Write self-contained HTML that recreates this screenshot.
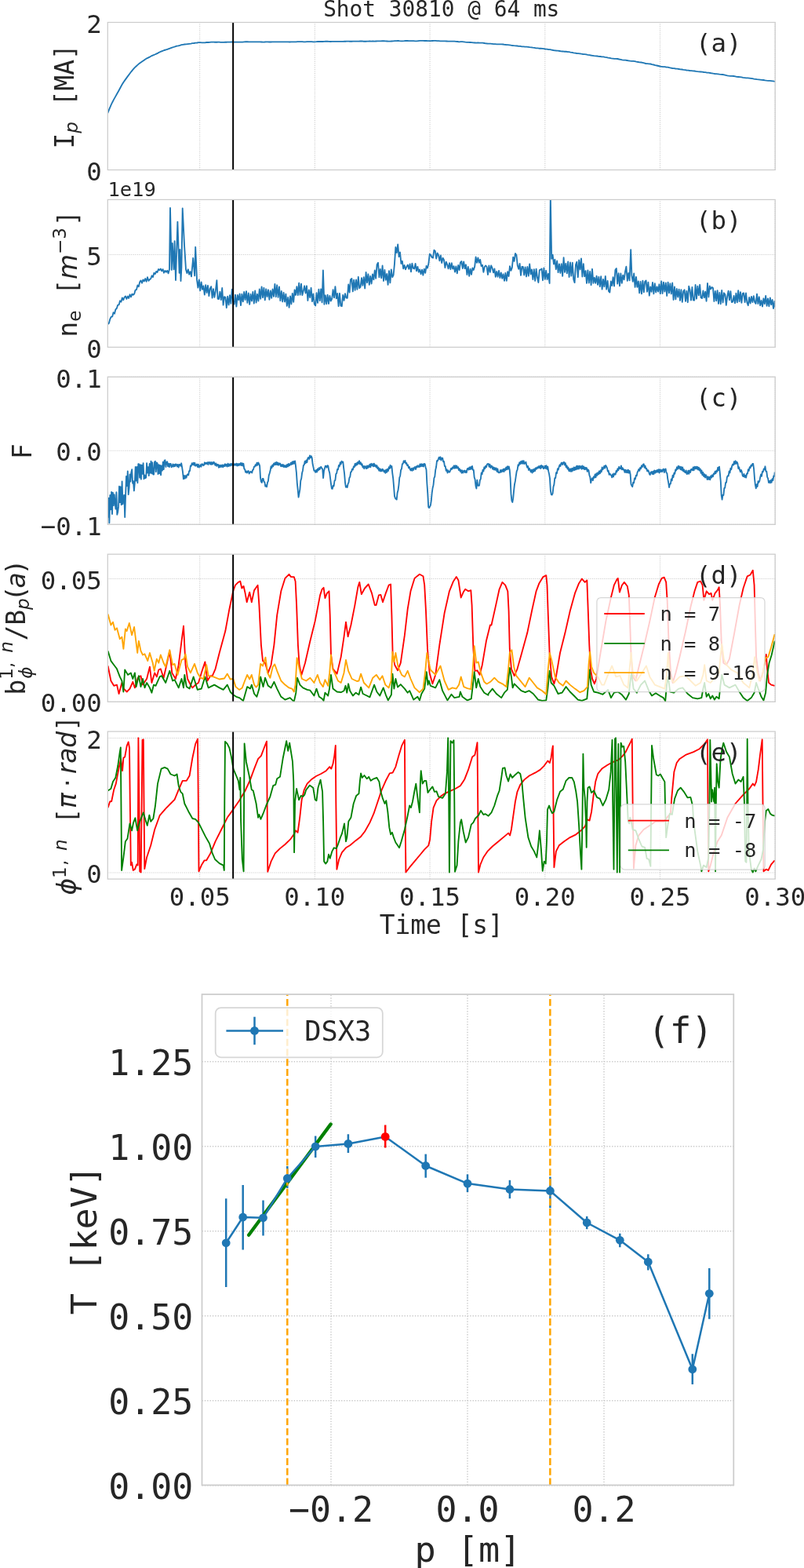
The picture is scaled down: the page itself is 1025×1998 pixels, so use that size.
<!DOCTYPE html>
<html><head><meta charset="utf-8"><title>Shot 30810</title>
<style>html,body{margin:0;padding:0;background:#fff}svg{display:block}</style></head>
<body>
<svg width="1025" height="1998" viewBox="0 0 1025 1998">
<rect width="1025" height="1998" fill="#fff"/>
<defs>
<clipPath id="cp0"><rect x="137.30" y="28.50" width="850.90" height="188.00"/></clipPath>
<clipPath id="cp1"><rect x="137.30" y="254.40" width="850.90" height="188.00"/></clipPath>
<clipPath id="cp2"><rect x="137.30" y="480.30" width="850.90" height="188.00"/></clipPath>
<clipPath id="cp3"><rect x="137.30" y="706.20" width="850.90" height="188.00"/></clipPath>
<clipPath id="cp4"><rect x="137.30" y="932.10" width="850.90" height="188.00"/></clipPath>
</defs>
<g stroke="#c6c6c6" stroke-width="1.05" stroke-dasharray="1.0,1.5" fill="none">
<line x1="254.67" y1="216.50" x2="254.67" y2="28.50"/>
<line x1="401.37" y1="216.50" x2="401.37" y2="28.50"/>
<line x1="548.08" y1="216.50" x2="548.08" y2="28.50"/>
<line x1="694.79" y1="216.50" x2="694.79" y2="28.50"/>
<line x1="841.49" y1="216.50" x2="841.49" y2="28.50"/>
<line x1="988.20" y1="216.50" x2="988.20" y2="28.50"/>
<line x1="137.30" y1="28.50" x2="988.20" y2="28.50"/>
<line x1="137.30" y1="216.50" x2="988.20" y2="216.50"/>
</g>
<g clip-path="url(#cp0)">
<path d="M137.3,144.2 L139.3,139.2 L141.3,134.4 L143.3,130.2 L145.3,126.4 L147.3,122.9 L149.3,119.3 L151.3,115.7 L153.3,112.0 L155.3,108.3 L157.3,105.0 L159.3,102.1 L161.3,99.4 L163.3,96.6 L165.3,94.0 L167.3,91.3 L169.3,88.9 L171.3,86.7 L173.3,84.7 L175.3,82.9 L177.3,81.1 L179.3,79.7 L181.3,78.3 L183.3,76.9 L185.3,75.5 L187.3,74.3 L189.3,73.3 L191.3,72.3 L193.3,71.2 L195.3,70.3 L197.3,69.5 L199.3,68.6 L201.3,67.6 L203.3,66.5 L205.3,65.6 L207.3,64.8 L209.3,64.0 L211.3,63.5 L213.3,62.8 L215.3,62.1 L217.3,61.4 L219.3,60.7 L221.3,60.0 L223.3,59.3 L225.3,58.7 L227.3,58.3 L229.3,57.8 L231.3,57.2 L233.3,56.8 L235.3,56.5 L237.3,56.4 L239.3,56.1 L241.3,55.8 L243.3,55.6 L245.3,55.2 L247.3,55.0 L249.3,54.6 L251.3,54.5 L253.3,54.1 L255.3,54.2 L257.3,54.3 L259.3,54.3 L261.3,54.3 L263.3,54.0 L265.3,54.0 L267.3,53.8 L269.3,53.7 L271.3,53.6 L273.3,53.7 L275.3,53.7 L277.3,53.7 L279.3,53.6 L281.3,53.8 L283.3,53.8 L285.3,53.8 L287.3,53.7 L289.3,53.7 L291.3,53.6 L293.3,53.6 L295.3,53.5 L297.3,53.6 L299.3,53.6 L301.3,53.6 L303.3,53.6 L305.3,53.6 L307.3,53.7 L309.3,53.6 L311.3,53.3 L313.3,53.2 L315.3,53.2 L317.3,53.3 L319.3,53.3 L321.3,53.4 L323.3,53.3 L325.3,53.4 L327.3,53.4 L329.3,53.4 L331.3,53.4 L333.3,53.5 L335.3,53.6 L337.3,53.5 L339.3,53.3 L341.3,53.3 L343.3,53.5 L345.3,53.5 L347.3,53.4 L349.3,53.3 L351.3,53.3 L353.3,53.4 L355.3,53.4 L357.3,53.3 L359.3,53.3 L361.3,53.4 L363.3,53.3 L365.3,53.4 L367.3,53.4 L369.3,53.5 L371.3,53.4 L373.3,53.4 L375.3,53.3 L377.3,53.4 L379.3,53.2 L381.3,53.1 L383.3,53.1 L385.3,53.2 L387.3,53.3 L389.3,53.3 L391.3,53.2 L393.3,53.1 L395.3,53.1 L397.3,53.2 L399.3,53.3 L401.3,53.3 L403.3,53.2 L405.3,53.0 L407.3,53.0 L409.3,53.0 L411.3,53.0 L413.3,52.9 L415.3,52.7 L417.3,52.7 L419.3,52.9 L421.3,53.0 L423.3,52.9 L425.3,52.9 L427.3,52.9 L429.3,52.9 L431.3,52.9 L433.3,52.9 L435.3,52.8 L437.3,52.8 L439.3,52.7 L441.3,52.7 L443.3,52.6 L445.3,52.7 L447.3,52.7 L449.3,52.7 L451.3,52.6 L453.3,52.7 L455.3,52.6 L457.3,52.7 L459.3,52.5 L461.3,52.5 L463.3,52.7 L465.3,52.7 L467.3,52.7 L469.3,52.6 L471.3,52.5 L473.3,52.6 L475.3,52.5 L477.3,52.6 L479.3,52.5 L481.3,52.4 L483.3,52.4 L485.3,52.3 L487.3,52.2 L489.3,52.2 L491.3,52.4 L493.3,52.5 L495.3,52.6 L497.3,52.6 L499.3,52.5 L501.3,52.4 L503.3,52.1 L505.3,52.1 L507.3,52.0 L509.3,52.2 L511.3,52.3 L513.3,52.3 L515.3,52.2 L517.3,52.0 L519.3,52.0 L521.3,52.1 L523.3,52.2 L525.3,52.1 L527.3,52.2 L529.3,52.3 L531.3,52.3 L533.3,52.1 L535.3,51.9 L537.3,51.9 L539.3,51.9 L541.3,52.0 L543.3,52.0 L545.3,52.1 L547.3,52.1 L549.3,52.1 L551.3,52.0 L553.3,51.9 L555.3,51.9 L557.3,52.1 L559.3,52.1 L561.3,52.4 L563.3,52.3 L565.3,52.4 L567.3,52.4 L569.3,52.5 L571.3,52.6 L573.3,52.6 L575.3,52.6 L577.3,52.6 L579.3,52.7 L581.3,52.9 L583.3,53.0 L585.3,53.3 L587.3,53.1 L589.3,53.2 L591.3,53.3 L593.3,53.6 L595.3,53.8 L597.3,53.9 L599.3,54.0 L601.3,54.1 L603.3,54.4 L605.3,54.5 L607.3,54.6 L609.3,54.5 L611.3,54.6 L613.3,54.6 L615.3,54.7 L617.3,55.0 L619.3,55.3 L621.3,55.5 L623.3,55.6 L625.3,55.7 L627.3,55.9 L629.3,56.1 L631.3,56.2 L633.3,56.3 L635.3,56.4 L637.3,56.3 L639.3,56.4 L641.3,56.5 L643.3,56.8 L645.3,57.0 L647.3,57.1 L649.3,57.3 L651.3,57.7 L653.3,58.0 L655.3,58.2 L657.3,58.3 L659.3,58.5 L661.3,58.8 L663.3,58.9 L665.3,59.3 L667.3,59.3 L669.3,59.6 L671.3,59.7 L673.3,59.9 L675.3,60.2 L677.3,60.3 L679.3,60.7 L681.3,60.9 L683.3,61.3 L685.3,61.4 L687.3,61.7 L689.3,61.7 L691.3,61.9 L693.3,62.1 L695.3,62.5 L697.3,62.7 L699.3,63.1 L701.3,63.2 L703.3,63.6 L705.3,64.0 L707.3,64.3 L709.3,64.5 L711.3,64.6 L713.3,65.0 L715.3,65.4 L717.3,65.5 L719.3,65.7 L721.3,65.7 L723.3,66.0 L725.3,66.2 L727.3,66.6 L729.3,66.9 L731.3,67.4 L733.3,67.7 L735.3,68.0 L737.3,68.1 L739.3,68.3 L741.3,68.7 L743.3,69.0 L745.3,69.2 L747.3,69.4 L749.3,69.8 L751.3,70.1 L753.3,70.5 L755.3,70.8 L757.3,71.2 L759.3,71.3 L761.3,71.5 L763.3,71.8 L765.3,72.0 L767.3,72.3 L769.3,72.4 L771.3,72.9 L773.3,73.1 L775.3,73.6 L777.3,73.9 L779.3,74.4 L781.3,74.6 L783.3,74.8 L785.3,74.8 L787.3,75.0 L789.3,75.5 L791.3,75.9 L793.3,76.3 L795.3,76.6 L797.3,76.7 L799.3,77.0 L801.3,77.3 L803.3,77.7 L805.3,77.8 L807.3,77.9 L809.3,78.2 L811.3,78.7 L813.3,79.0 L815.3,79.3 L817.3,79.5 L819.3,79.9 L821.3,80.4 L823.3,81.0 L825.3,81.2 L827.3,81.4 L829.3,81.5 L831.3,82.1 L833.3,82.5 L835.3,83.1 L837.3,83.5 L839.3,84.0 L841.3,84.5 L843.3,84.8 L845.3,85.1 L847.3,85.2 L849.3,85.5 L851.3,85.7 L853.3,86.2 L855.3,86.6 L857.3,87.0 L859.3,87.2 L861.3,87.5 L863.3,87.7 L865.3,88.0 L867.3,88.3 L869.3,88.5 L871.3,88.9 L873.3,89.1 L875.3,89.5 L877.3,89.6 L879.3,90.0 L881.3,90.1 L883.3,90.4 L885.3,90.5 L887.3,90.9 L889.3,91.2 L891.3,91.4 L893.3,91.5 L895.3,91.6 L897.3,92.0 L899.3,92.2 L901.3,92.6 L903.3,92.7 L905.3,93.0 L907.3,93.3 L909.3,93.7 L911.3,94.0 L913.3,94.2 L915.3,94.4 L917.3,94.7 L919.3,94.8 L921.3,95.0 L923.3,95.3 L925.3,95.9 L927.3,96.3 L929.3,96.6 L931.3,96.8 L933.3,96.8 L935.3,97.0 L937.3,97.3 L939.3,97.8 L941.3,98.0 L943.3,98.2 L945.3,98.4 L947.3,98.9 L949.3,99.1 L951.3,99.3 L953.3,99.4 L955.3,99.6 L957.3,99.8 L959.3,100.2 L961.3,100.6 L963.3,100.9 L965.3,101.2 L967.3,101.4 L969.3,101.6 L971.3,101.8 L973.3,102.0 L975.3,102.4 L977.3,102.7 L979.3,102.8 L981.3,102.9 L983.3,103.1 L985.3,103.4 L987.3,103.7 L988.2,103.8" fill="none" stroke="#1f77b4" stroke-width="1.85" stroke-linejoin="round" stroke-linecap="butt" />
<line x1="297.15" y1="28.50" x2="297.15" y2="216.50" stroke="#000" stroke-width="2"/>
</g>
<rect x="137.30" y="28.50" width="850.90" height="188.00" fill="none" stroke="#cccccc" stroke-width="1.25"/>
<g stroke="#c6c6c6" stroke-width="1.05" stroke-dasharray="1.0,1.5" fill="none">
<line x1="254.67" y1="442.40" x2="254.67" y2="254.40"/>
<line x1="401.37" y1="442.40" x2="401.37" y2="254.40"/>
<line x1="548.08" y1="442.40" x2="548.08" y2="254.40"/>
<line x1="694.79" y1="442.40" x2="694.79" y2="254.40"/>
<line x1="841.49" y1="442.40" x2="841.49" y2="254.40"/>
<line x1="988.20" y1="442.40" x2="988.20" y2="254.40"/>
<line x1="137.30" y1="324.50" x2="988.20" y2="324.50"/>
<line x1="137.30" y1="442.40" x2="988.20" y2="442.40"/>
</g>
<g clip-path="url(#cp1)">
<path d="M137.6,413.1 L139.0,411.6 L140.4,406.2 L141.8,403.7 L143.2,403.4 L144.6,398.1 L146.0,399.7 L147.4,394.3 L148.8,393.0 L150.2,388.6 L151.6,388.4 L153.0,383.3 L154.4,384.7 L155.8,379.4 L157.2,382.3 L158.6,378.8 L160.0,377.4 L161.4,381.0 L162.8,377.5 L164.2,380.0 L165.6,375.3 L167.0,378.3 L168.4,374.6 L169.8,375.7 L171.2,374.6 L172.6,369.6 L174.0,369.1 L175.4,363.5 L176.8,365.3 L178.2,359.4 L179.6,357.4 L181.0,360.7 L182.4,356.4 L183.8,358.4 L185.2,355.0 L186.6,358.8 L188.0,353.2 L189.4,357.8 L190.8,356.1 L192.2,355.3 L193.6,351.3 L195.0,353.1 L196.4,347.8 L197.8,349.2 L199.2,345.9 L200.6,347.0 L202.0,343.0 L203.4,344.2 L204.8,342.5 L206.2,345.3 L207.6,343.1 L209.0,347.7 L210.4,344.9 L211.8,346.7 L213.2,344.8 L214.6,348.3 L216.0,342.9 L217.0,264.9 L218.8,343.9 L219.8,310.0 L221.6,343.3 L222.6,307.2 L224.0,357.0 L226.4,282.6 L228.6,347.8 L229.5,318.0 L230.5,358.0 L231.4,341.0 L232.7,265.4 L235.0,312.0 L237.0,343.5 L238.4,348.1 L239.8,343.3 L241.2,349.7 L242.6,346.1 L244.0,352.4 L246.2,328.8 L248.2,351.3 L249.2,314.8 L251.0,356.4 L252.4,366.7 L253.8,356.4 L255.2,370.3 L256.6,359.4 L258.0,368.8 L259.4,364.3 L260.8,375.6 L262.2,363.1 L263.6,373.1 L265.0,363.8 L266.4,377.2 L267.8,367.6 L269.2,365.1 L270.6,379.6 L272.0,368.2 L273.4,378.8 L274.8,370.9 L276.4,357.2 L277.6,380.8 L279.0,381.0 L280.4,371.7 L281.8,382.1 L283.2,367.0 L284.6,388.7 L286.0,378.1 L287.4,378.8 L288.8,392.2 L290.2,377.7 L291.6,388.6 L293.0,376.2 L294.4,386.9 L295.8,368.6 L297.2,384.3 L298.6,387.6 L300.0,375.6 L301.4,390.6 L302.8,376.0 L304.2,382.3 L305.6,374.4 L307.0,389.1 L308.4,374.6 L309.8,384.3 L311.2,371.9 L312.6,382.1 L314.0,371.2 L315.4,385.9 L316.8,373.5 L318.2,387.8 L319.6,374.8 L321.0,383.5 L322.4,371.9 L323.8,386.6 L325.2,370.5 L326.6,385.6 L328.0,374.8 L329.4,383.6 L330.8,368.5 L332.2,380.8 L333.6,365.4 L335.0,379.1 L336.4,366.8 L337.8,382.3 L339.2,368.3 L340.6,378.0 L342.0,369.3 L343.4,381.9 L344.8,370.5 L346.2,379.9 L347.6,368.4 L349.0,377.9 L350.4,361.9 L351.8,378.2 L353.2,363.3 L354.6,378.8 L356.0,365.4 L357.4,383.1 L358.8,371.0 L360.2,384.5 L361.6,372.8 L363.0,384.5 L364.4,374.6 L365.8,389.8 L367.2,379.0 L368.6,391.9 L370.0,377.4 L371.4,387.5 L372.8,373.9 L374.2,384.8 L375.6,369.3 L377.0,376.0 L378.4,365.2 L379.8,376.2 L381.2,360.7 L382.6,375.7 L384.0,361.6 L385.4,376.1 L386.8,370.6 L388.2,364.3 L389.6,373.5 L391.0,364.3 L392.4,383.0 L393.8,369.5 L395.2,379.2 L396.6,366.8 L398.0,384.1 L399.4,374.5 L400.8,387.5 L402.2,389.5 L403.6,373.2 L405.0,386.0 L406.4,368.6 L407.8,383.1 L409.2,368.3 L410.6,385.4 L411.9,344.5 L413.4,387.8 L414.8,376.3 L416.2,387.3 L417.6,375.7 L419.0,387.1 L420.4,376.9 L421.8,383.5 L423.2,380.5 L424.6,369.2 L426.0,379.4 L427.4,365.2 L428.8,380.3 L430.2,374.0 L431.6,390.2 L433.0,373.8 L434.4,389.7 L435.8,390.2 L437.2,375.9 L438.6,382.8 L440.0,374.1 L441.4,379.5 L442.8,379.8 L444.2,362.5 L445.6,372.7 L447.0,356.1 L448.4,354.9 L449.8,371.4 L451.2,356.7 L452.6,369.8 L454.0,356.5 L455.4,368.9 L456.8,352.8 L458.2,367.2 L459.6,365.6 L461.0,354.1 L462.4,363.8 L463.8,353.2 L465.2,367.5 L466.6,347.0 L468.0,360.2 L469.4,349.3 L470.8,362.9 L472.2,351.8 L473.6,361.5 L475.0,349.4 L476.4,356.3 L477.8,344.4 L479.2,354.8 L480.6,337.2 L482.0,334.8 L483.4,353.3 L484.8,342.9 L486.2,354.4 L487.6,338.5 L489.0,358.0 L490.4,344.0 L491.8,356.9 L493.2,349.0 L494.6,362.9 L496.0,345.1 L497.4,360.4 L498.8,343.4 L500.2,353.2 L501.6,350.5 L503.0,335.8 L504.4,314.9 L505.8,322.2 L507.2,311.4 L508.6,327.1 L510.0,321.4 L511.4,335.8 L512.8,332.6 L514.2,342.4 L515.6,338.0 L517.0,343.3 L518.4,339.9 L519.8,337.5 L521.2,342.7 L522.6,336.5 L524.0,346.4 L525.4,335.7 L526.8,341.8 L528.2,342.5 L529.6,336.0 L531.0,345.4 L532.4,339.8 L533.8,346.7 L535.2,343.4 L536.6,349.3 L538.0,343.7 L539.4,350.7 L540.8,342.7 L542.2,347.8 L543.6,338.8 L545.0,341.6 L546.4,335.6 L547.8,323.7 L549.2,325.0 L550.6,328.0 L552.0,328.6 L553.4,318.6 L554.8,319.9 L556.2,329.5 L557.6,322.5 L559.0,325.0 L560.4,332.4 L561.8,325.4 L563.2,335.1 L564.6,328.6 L566.0,331.1 L567.4,341.2 L568.8,333.7 L570.2,337.1 L571.6,342.4 L573.0,335.1 L574.4,343.2 L575.8,335.2 L577.2,342.6 L578.6,339.2 L580.0,346.6 L581.4,339.5 L582.8,348.4 L584.2,337.9 L585.6,344.1 L587.0,334.4 L588.4,332.9 L589.8,342.0 L591.2,333.4 L592.6,342.2 L594.0,337.3 L595.4,350.0 L596.8,340.0 L598.2,351.9 L599.6,342.7 L601.0,349.9 L602.4,341.4 L603.8,344.0 L605.2,339.6 L606.6,327.4 L608.0,334.8 L609.4,328.5 L610.8,334.8 L612.2,330.8 L613.6,339.0 L615.0,337.7 L616.4,346.8 L617.8,340.0 L619.2,338.4 L620.6,340.0 L622.0,350.0 L623.4,338.4 L624.8,346.9 L626.2,338.3 L627.6,341.6 L629.0,347.4 L630.4,342.4 L631.8,352.8 L633.2,345.9 L634.6,352.7 L636.0,344.9 L637.4,354.1 L638.8,347.5 L640.2,354.8 L641.6,349.3 L643.0,357.9 L644.4,347.8 L645.8,357.8 L647.2,346.1 L648.6,352.0 L650.0,339.1 L651.4,344.8 L652.8,341.1 L654.2,327.7 L655.6,332.9 L657.0,323.0 L658.4,325.1 L659.8,338.3 L661.2,342.8 L662.6,335.9 L664.0,350.8 L665.4,339.8 L666.8,339.9 L668.2,350.5 L669.6,340.4 L671.0,352.5 L672.4,339.9 L673.8,351.7 L675.2,336.4 L676.6,349.5 L678.0,343.5 L679.4,356.1 L680.8,343.2 L682.2,357.9 L683.6,342.7 L685.0,353.8 L686.4,360.0 L687.8,344.1 L689.2,343.7 L690.6,342.4 L692.0,357.2 L693.4,341.5 L694.8,355.9 L696.2,344.8 L697.6,356.2 L699.0,348.8 L700.6,361.0 L701.8,250.0 L703.2,329.8 L704.6,324.7 L706.0,336.6 L707.4,330.7 L708.8,343.2 L710.2,332.5 L711.6,347.1 L713.0,336.4 L714.4,348.0 L715.8,336.2 L717.2,351.8 L718.6,328.2 L720.0,346.9 L721.4,335.7 L722.8,348.4 L724.2,333.4 L725.6,353.0 L727.0,334.5 L728.4,351.6 L729.8,334.7 L731.2,356.0 L732.6,360.1 L734.0,337.4 L735.4,333.7 L736.8,353.1 L738.2,331.4 L739.6,343.5 L741.0,329.4 L742.4,352.5 L743.8,336.1 L745.2,352.2 L746.6,345.2 L748.0,360.9 L749.4,344.4 L750.8,360.5 L752.2,345.9 L753.6,363.2 L755.0,342.8 L756.4,360.8 L757.8,353.8 L759.2,360.8 L760.6,351.7 L762.0,362.8 L763.4,352.8 L764.8,365.2 L766.2,352.2 L767.6,368.6 L769.0,355.9 L770.4,365.3 L771.8,351.9 L773.2,368.7 L774.6,357.8 L776.0,371.0 L777.4,372.5 L778.8,358.5 L780.2,364.1 L781.6,353.2 L783.0,364.6 L784.4,344.1 L785.8,342.1 L787.2,361.6 L788.6,348.2 L790.0,364.4 L791.4,348.5 L792.8,360.8 L794.2,350.7 L795.6,356.3 L797.0,346.3 L798.4,339.7 L799.8,357.9 L801.2,347.9 L802.6,357.4 L804.2,318.1 L805.4,351.2 L806.8,358.9 L808.2,348.4 L809.6,365.9 L811.0,352.9 L812.4,365.9 L813.8,358.4 L815.2,373.3 L816.6,358.8 L818.0,374.4 L819.4,357.6 L820.8,372.4 L822.2,358.8 L823.6,357.4 L825.0,371.7 L826.4,359.6 L827.8,376.7 L829.2,365.4 L830.6,371.8 L832.0,359.9 L833.4,374.3 L834.8,361.1 L836.2,372.5 L837.6,365.3 L839.0,371.6 L840.4,362.3 L841.8,374.4 L843.2,358.3 L844.6,374.0 L846.0,359.6 L847.4,371.6 L848.8,360.4 L850.2,377.0 L851.6,359.6 L853.0,373.4 L854.4,361.3 L855.8,374.5 L857.2,360.5 L858.6,382.0 L860.0,365.5 L861.4,381.3 L862.8,368.0 L864.2,378.5 L865.6,368.7 L867.0,382.8 L868.4,369.2 L869.8,384.8 L871.2,371.0 L872.6,369.3 L874.0,383.9 L875.4,370.8 L876.8,385.2 L878.2,364.7 L879.6,369.6 L881.0,382.6 L882.4,365.9 L883.8,382.5 L885.2,382.6 L886.6,363.0 L888.0,380.7 L889.4,364.7 L890.8,376.3 L892.2,362.8 L893.6,379.3 L895.0,380.1 L896.4,370.4 L897.8,379.3 L899.2,371.7 L900.6,383.8 L902.0,361.0 L903.4,378.5 L904.8,364.5 L906.2,368.4 L907.6,366.0 L909.0,367.1 L910.4,384.0 L911.8,371.0 L913.2,383.3 L914.6,370.1 L916.0,387.0 L917.4,372.8 L918.8,387.3 L920.2,369.9 L921.6,385.5 L923.0,373.3 L924.4,375.2 L925.8,388.9 L927.2,377.6 L928.6,370.6 L930.0,382.4 L931.4,371.1 L932.8,385.0 L934.2,384.6 L935.6,376.9 L937.0,386.4 L938.4,373.7 L939.8,385.3 L941.2,370.2 L942.6,384.1 L944.0,372.2 L945.4,385.8 L946.8,373.8 L948.2,373.4 L949.6,385.2 L951.0,373.5 L952.4,385.4 L953.8,389.2 L955.2,378.9 L956.6,386.6 L958.0,377.9 L959.4,385.1 L960.8,377.1 L962.2,385.0 L963.6,387.0 L965.0,374.7 L966.4,387.2 L967.8,378.3 L969.2,389.4 L970.6,382.9 L972.0,390.6 L973.4,380.3 L974.8,387.2 L976.2,376.9 L977.6,389.9 L979.0,380.5 L980.4,390.4 L981.8,379.5 L983.2,388.2 L984.6,382.0 L986.0,393.1 L987.4,383.9 L988.0,391.4" fill="none" stroke="#1f77b4" stroke-width="1.85" stroke-linejoin="round" stroke-linecap="butt" />
<line x1="297.15" y1="254.40" x2="297.15" y2="442.40" stroke="#000" stroke-width="2"/>
</g>
<rect x="137.30" y="254.40" width="850.90" height="188.00" fill="none" stroke="#cccccc" stroke-width="1.25"/>
<g stroke="#c6c6c6" stroke-width="1.05" stroke-dasharray="1.0,1.5" fill="none">
<line x1="254.67" y1="668.30" x2="254.67" y2="480.30"/>
<line x1="401.37" y1="668.30" x2="401.37" y2="480.30"/>
<line x1="548.08" y1="668.30" x2="548.08" y2="480.30"/>
<line x1="694.79" y1="668.30" x2="694.79" y2="480.30"/>
<line x1="841.49" y1="668.30" x2="841.49" y2="480.30"/>
<line x1="988.20" y1="668.30" x2="988.20" y2="480.30"/>
<line x1="137.30" y1="480.30" x2="988.20" y2="480.30"/>
<line x1="137.30" y1="574.20" x2="988.20" y2="574.20"/>
<line x1="137.30" y1="668.30" x2="988.20" y2="668.30"/>
</g>
<g clip-path="url(#cp2)">
<path d="M137.6,659.8 L138.5,634.7 L139.4,666.4 L140.3,631.0 L141.2,649.2 L142.1,626.9 L143.0,655.0 L143.9,627.6 L144.8,644.1 L145.7,630.2 L146.6,640.6 L147.5,648.6 L148.4,627.2 L149.3,655.8 L150.2,652.5 L151.1,645.4 L152.0,619.7 L152.9,640.1 L153.8,620.3 L154.7,643.3 L155.6,613.4 L156.5,642.4 L157.4,634.9 L158.3,630.8 L159.2,659.0 L160.1,631.2 L161.0,606.9 L161.9,619.2 L162.8,600.4 L163.7,630.1 L164.6,621.6 L165.5,604.4 L166.4,613.6 L167.3,601.9 L168.2,598.1 L169.1,615.8 L170.0,613.2 L170.9,625.4 L171.8,615.6 L172.7,595.0 L173.6,612.6 L174.5,595.0 L175.4,615.3 L176.3,591.1 L177.2,591.4 L178.1,608.7 L179.0,592.1 L179.9,610.6 L180.8,592.6 L181.7,603.9 L182.6,590.1 L183.5,610.4 L184.4,605.4 L185.3,609.3 L186.2,608.5 L187.1,590.1 L188.0,602.5 L188.9,595.1 L189.8,606.1 L190.7,591.0 L191.6,602.7 L192.5,587.6 L193.4,603.4 L194.3,589.3 L195.2,604.5 L196.1,604.6 L197.0,588.9 L197.9,587.8 L198.8,601.2 L199.7,589.5 L200.6,590.2 L201.5,604.1 L202.4,592.2 L203.3,603.3 L204.2,592.8 L205.1,605.4 L206.0,593.5 L206.9,599.6 L207.8,588.6 L208.7,598.1 L209.6,586.8 L210.5,586.3 L211.4,595.0 L212.3,588.9 L213.2,588.2 L214.1,594.3 L215.0,590.7 L215.9,595.1 L216.8,591.0 L217.7,590.9 L218.6,595.4 L219.5,594.6 L220.4,591.4 L221.3,594.6 L222.2,591.9 L223.1,594.1 L224.0,591.4 L224.9,591.9 L225.8,594.5 L226.7,591.9 L227.6,595.6 L228.5,591.9 L229.4,592.0 L230.3,593.7 L231.2,590.3 L232.1,595.3 L233.0,601.5 L233.9,610.4 L234.8,606.0 L235.7,609.9 L236.6,606.1 L237.5,608.7 L238.4,605.4 L239.3,604.2 L240.2,605.5 L241.1,600.2 L242.0,600.2 L242.9,593.4 L243.8,593.8 L244.7,590.3 L245.6,592.1 L246.5,589.6 L247.4,592.7 L248.3,589.8 L249.2,593.7 L250.1,593.0 L251.0,591.5 L251.9,595.1 L252.8,591.7 L253.7,595.6 L254.6,594.5 L255.5,592.3 L256.4,594.7 L257.3,591.3 L258.2,591.4 L259.1,593.2 L260.0,592.7 L260.9,589.3 L261.8,591.3 L262.7,589.6 L263.6,591.1 L264.5,589.1 L265.4,592.1 L266.3,589.0 L267.2,589.2 L268.1,591.7 L269.0,588.9 L269.9,591.9 L270.8,589.1 L271.7,591.2 L272.6,588.6 L273.5,590.2 L274.4,592.9 L275.3,590.4 L276.2,593.8 L277.1,591.8 L278.0,592.0 L278.9,595.8 L279.8,592.7 L280.7,595.1 L281.6,592.8 L282.5,594.9 L283.4,592.4 L284.3,595.3 L285.2,592.4 L286.1,594.1 L287.0,591.3 L287.9,593.8 L288.8,591.8 L289.7,594.5 L290.6,590.7 L291.5,594.0 L292.4,591.5 L293.3,593.6 L294.2,590.9 L295.1,593.0 L296.0,590.9 L296.9,592.7 L297.8,591.0 L298.7,592.7 L299.6,591.2 L300.5,592.8 L301.4,590.6 L302.3,593.6 L303.2,591.0 L304.1,593.2 L305.0,590.9 L305.9,592.7 L306.8,590.0 L307.7,593.0 L308.6,590.1 L309.5,593.5 L310.4,590.8 L311.3,597.4 L312.2,598.1 L313.1,601.9 L314.0,600.4 L314.9,602.5 L315.8,600.6 L316.7,600.0 L317.6,603.5 L318.5,602.5 L319.4,600.8 L320.3,601.1 L321.2,602.4 L322.1,598.9 L323.0,598.4 L323.9,594.6 L324.8,594.7 L325.7,592.1 L326.6,593.5 L327.5,589.7 L328.4,592.7 L329.3,589.4 L330.2,591.2 L331.1,593.4 L332.0,608.5 L332.9,613.8 L333.8,615.0 L334.7,610.0 L335.6,609.9 L336.5,613.9 L337.4,614.3 L338.3,619.8 L339.2,618.3 L340.1,620.3 L341.0,614.8 L341.9,613.0 L342.8,605.7 L343.7,603.1 L344.6,599.8 L345.5,594.3 L346.4,596.4 L347.3,592.4 L348.2,594.3 L349.1,590.4 L350.0,592.4 L350.9,589.4 L351.8,592.1 L352.7,588.8 L353.6,592.4 L354.5,589.7 L355.4,592.7 L356.3,590.5 L357.2,590.7 L358.1,594.2 L359.0,592.0 L359.9,594.3 L360.8,591.9 L361.7,595.1 L362.6,593.0 L363.5,595.2 L364.4,593.0 L365.3,595.3 L366.2,591.8 L367.1,594.4 L368.0,590.9 L368.9,593.4 L369.8,592.4 L370.7,589.8 L371.6,592.0 L372.5,588.5 L373.4,591.2 L374.3,587.8 L375.2,590.6 L376.1,587.5 L377.0,593.9 L377.9,602.3 L378.8,615.6 L379.7,624.2 L380.6,633.6 L381.5,628.5 L382.4,623.6 L383.3,612.6 L384.2,609.8 L385.1,602.7 L386.0,599.4 L386.9,592.9 L387.8,592.2 L388.7,587.6 L389.6,590.3 L390.5,586.5 L391.4,589.1 L392.3,584.1 L393.2,582.9 L394.1,585.0 L395.0,580.5 L395.9,583.4 L396.8,581.1 L397.7,583.4 L398.6,591.3 L399.5,595.4 L400.4,599.9 L401.3,599.6 L402.2,601.8 L403.1,598.9 L404.0,601.6 L404.9,597.4 L405.8,599.5 L406.7,596.2 L407.6,598.1 L408.5,595.3 L409.4,595.0 L410.3,596.9 L411.2,597.6 L412.1,609.2 L413.0,600.1 L413.9,597.0 L414.8,593.7 L415.7,593.8 L416.6,595.8 L417.5,593.1 L418.4,593.8 L419.3,599.6 L420.2,602.5 L421.1,609.5 L422.0,616.6 L422.9,622.6 L423.8,622.9 L424.7,618.7 L425.6,619.5 L426.5,612.5 L427.4,611.9 L428.3,604.0 L429.2,603.1 L430.1,598.0 L431.0,598.2 L431.9,593.0 L432.8,594.2 L433.7,589.3 L434.6,591.6 L435.5,587.7 L436.4,589.3 L437.3,588.6 L438.2,596.6 L439.1,603.5 L440.0,614.8 L440.9,620.9 L441.8,619.2 L442.7,621.0 L443.6,616.6 L444.5,614.9 L445.4,609.0 L446.3,607.5 L447.2,601.3 L448.1,601.1 L449.0,597.6 L449.9,598.6 L450.8,594.5 L451.7,595.3 L452.6,591.0 L453.5,593.5 L454.4,590.1 L455.3,592.2 L456.2,588.8 L457.1,590.9 L458.0,587.2 L458.9,591.4 L459.8,589.2 L460.7,592.5 L461.6,591.3 L462.5,595.6 L463.4,594.0 L464.3,597.2 L465.2,594.0 L466.1,594.8 L467.0,597.2 L467.9,593.5 L468.8,596.6 L469.7,593.5 L470.6,595.1 L471.5,591.6 L472.4,595.3 L473.3,590.8 L474.2,593.3 L475.1,591.1 L476.0,594.4 L476.9,590.7 L477.8,594.0 L478.7,592.4 L479.6,595.4 L480.5,593.1 L481.4,597.4 L482.3,595.5 L483.2,599.7 L484.1,597.2 L485.0,600.5 L485.9,598.0 L486.8,600.4 L487.7,597.7 L488.6,598.9 L489.5,601.3 L490.4,599.5 L491.3,602.8 L492.2,598.5 L493.1,601.8 L494.0,597.6 L494.9,600.2 L495.8,595.2 L496.7,597.1 L497.6,592.8 L498.5,595.9 L499.4,594.0 L500.3,603.1 L501.2,609.7 L502.1,620.3 L503.0,632.1 L503.9,634.8 L504.8,635.8 L505.7,636.6 L506.6,627.9 L507.5,624.8 L508.4,618.3 L509.3,608.6 L510.2,606.2 L511.1,598.8 L512.0,597.4 L512.9,591.1 L513.8,590.9 L514.7,587.3 L515.6,589.2 L516.5,586.9 L517.4,590.9 L518.3,589.9 L519.2,593.2 L520.1,592.4 L521.0,596.4 L521.9,594.9 L522.8,598.1 L523.7,599.4 L524.6,596.9 L525.5,599.8 L526.4,596.5 L527.3,598.8 L528.2,595.8 L529.1,595.0 L530.0,598.1 L530.9,594.1 L531.8,595.4 L532.7,593.2 L533.6,594.8 L534.5,595.1 L535.4,591.4 L536.3,594.4 L537.2,591.2 L538.1,594.1 L539.0,591.4 L539.9,594.5 L540.8,590.9 L541.7,591.3 L542.6,595.4 L543.5,598.5 L544.4,616.5 L545.3,628.9 L546.2,645.9 L547.1,647.1 L548.0,645.5 L548.9,643.9 L549.8,637.8 L550.7,628.2 L551.6,621.7 L552.5,618.1 L553.4,609.2 L554.3,607.3 L555.2,598.9 L556.1,595.0 L557.0,587.2 L557.9,587.4 L558.8,585.0 L559.7,582.7 L560.6,585.3 L561.5,582.3 L562.4,586.5 L563.3,583.6 L564.2,583.7 L565.1,588.3 L566.0,588.0 L566.9,594.0 L567.8,594.2 L568.7,599.8 L569.6,598.1 L570.5,602.6 L571.4,599.4 L572.3,601.5 L573.2,601.6 L574.1,599.6 L575.0,596.9 L575.9,598.0 L576.8,595.5 L577.7,596.7 L578.6,593.5 L579.5,596.7 L580.4,593.2 L581.3,596.5 L582.2,593.4 L583.1,596.6 L584.0,595.1 L584.9,599.1 L585.8,597.1 L586.7,600.7 L587.6,598.9 L588.5,602.7 L589.4,599.5 L590.3,602.6 L591.2,600.3 L592.1,599.6 L593.0,602.1 L593.9,600.0 L594.8,602.2 L595.7,597.4 L596.6,596.7 L597.5,598.6 L598.4,595.5 L599.3,598.1 L600.2,595.0 L601.1,597.7 L602.0,593.9 L602.9,598.8 L603.8,598.8 L604.7,608.3 L605.6,610.9 L606.5,619.2 L607.4,622.5 L608.3,611.7 L609.2,618.7 L610.1,618.7 L611.0,618.7 L611.9,611.8 L612.8,610.5 L613.7,602.5 L614.6,604.4 L615.5,598.6 L616.4,600.5 L617.3,595.3 L618.2,597.2 L619.1,593.6 L620.0,595.4 L620.9,591.8 L621.8,591.1 L622.7,590.9 L623.6,594.7 L624.5,591.6 L625.4,596.1 L626.3,593.5 L627.2,594.0 L628.1,597.8 L629.0,595.3 L629.9,598.6 L630.8,596.0 L631.7,598.8 L632.6,596.4 L633.5,600.9 L634.4,597.5 L635.3,602.0 L636.2,602.4 L637.1,602.1 L638.0,599.0 L638.9,601.7 L639.8,598.9 L640.7,600.8 L641.6,597.7 L642.5,601.1 L643.4,597.3 L644.3,599.4 L645.2,595.4 L646.1,598.3 L647.0,594.1 L647.9,597.7 L648.8,594.5 L649.7,598.7 L650.6,609.0 L651.5,629.4 L652.4,637.9 L653.3,640.0 L654.2,635.2 L655.1,625.1 L656.0,617.2 L656.9,612.9 L657.8,606.3 L658.7,600.5 L659.6,598.7 L660.5,592.3 L661.4,593.4 L662.3,589.1 L663.2,591.3 L664.1,588.0 L665.0,590.7 L665.9,587.1 L666.8,590.9 L667.7,587.1 L668.6,591.0 L669.5,590.5 L670.4,588.6 L671.3,592.9 L672.2,595.7 L673.1,594.0 L674.0,599.0 L674.9,596.8 L675.8,598.6 L676.7,601.4 L677.6,598.8 L678.5,602.6 L679.4,598.3 L680.3,601.0 L681.2,597.4 L682.1,600.1 L683.0,596.1 L683.9,597.7 L684.8,595.4 L685.7,596.6 L686.6,594.1 L687.5,596.2 L688.4,593.7 L689.3,597.0 L690.2,592.9 L691.1,595.6 L692.0,593.9 L692.9,597.2 L693.8,596.6 L694.7,593.6 L695.6,596.8 L696.5,593.1 L697.4,597.8 L698.3,594.6 L699.2,600.4 L700.1,604.1 L701.0,609.6 L701.9,625.1 L702.8,630.2 L703.7,630.6 L704.6,628.9 L705.5,620.2 L706.4,617.4 L707.3,609.1 L708.2,609.2 L709.1,602.2 L710.0,603.1 L710.9,597.3 L711.8,598.5 L712.7,594.8 L713.6,592.3 L714.5,594.0 L715.4,590.3 L716.3,589.5 L717.2,592.1 L718.1,589.4 L719.0,588.8 L719.9,592.5 L720.8,590.0 L721.7,595.4 L722.6,593.3 L723.5,597.6 L724.4,595.5 L725.3,600.1 L726.2,597.5 L727.1,600.7 L728.0,597.2 L728.9,600.9 L729.8,596.8 L730.7,599.5 L731.6,595.4 L732.5,599.1 L733.4,595.5 L734.3,598.4 L735.2,593.7 L736.1,597.7 L737.0,593.8 L737.9,597.6 L738.8,593.6 L739.7,596.5 L740.6,594.2 L741.5,597.7 L742.4,593.5 L743.3,597.2 L744.2,594.5 L745.1,598.2 L746.0,595.6 L746.9,598.0 L747.8,596.0 L748.7,600.9 L749.6,598.3 L750.5,599.3 L751.4,605.6 L752.3,607.9 L753.2,615.4 L754.1,611.0 L755.0,609.3 L755.9,612.1 L756.8,607.5 L757.7,608.7 L758.6,604.5 L759.5,608.3 L760.4,603.1 L761.3,605.9 L762.2,602.2 L763.1,604.3 L764.0,600.3 L764.9,603.4 L765.8,599.2 L766.7,601.3 L767.6,595.5 L768.5,598.3 L769.4,596.2 L770.3,593.8 L771.2,596.7 L772.1,592.9 L773.0,594.3 L773.9,596.1 L774.8,600.5 L775.7,599.8 L776.6,604.9 L777.5,603.4 L778.4,604.9 L779.3,605.7 L780.2,608.4 L781.1,604.2 L782.0,607.5 L782.9,603.3 L783.8,604.7 L784.7,604.5 L785.6,599.9 L786.5,601.4 L787.4,597.1 L788.3,599.2 L789.2,594.8 L790.1,597.2 L791.0,597.3 L791.9,593.5 L792.8,598.3 L793.7,596.1 L794.6,598.6 L795.5,598.1 L796.4,601.9 L797.3,598.7 L798.2,602.0 L799.1,599.2 L800.0,602.4 L800.9,598.7 L801.8,602.7 L802.7,599.9 L803.6,604.1 L804.5,616.9 L805.4,618.9 L806.3,620.2 L807.2,614.8 L808.1,615.4 L809.0,609.4 L809.9,610.5 L810.8,605.8 L811.7,606.4 L812.6,601.8 L813.5,600.2 L814.4,597.8 L815.3,599.8 L816.2,595.8 L817.1,597.3 L818.0,593.3 L818.9,595.0 L819.8,591.8 L820.7,591.3 L821.6,595.8 L822.5,593.5 L823.4,597.3 L824.3,597.0 L825.2,600.6 L826.1,599.1 L827.0,600.6 L827.9,604.0 L828.8,605.1 L829.7,601.7 L830.6,601.1 L831.5,604.0 L832.4,600.8 L833.3,604.3 L834.2,599.5 L835.1,602.8 L836.0,599.7 L836.9,601.9 L837.8,599.0 L838.7,601.5 L839.6,598.2 L840.5,602.6 L841.4,598.1 L842.3,601.0 L843.2,598.9 L844.1,601.2 L845.0,598.5 L845.9,597.6 L846.8,602.0 L847.7,598.2 L848.6,597.4 L849.5,602.3 L850.4,603.1 L851.3,610.3 L852.2,615.0 L853.1,621.1 L854.0,616.6 L854.9,616.6 L855.8,610.5 L856.7,612.3 L857.6,605.6 L858.5,608.2 L859.4,602.6 L860.3,603.7 L861.2,598.5 L862.1,599.4 L863.0,595.3 L863.9,597.7 L864.8,593.7 L865.7,596.8 L866.6,594.4 L867.5,598.2 L868.4,594.9 L869.3,599.0 L870.2,595.5 L871.1,600.6 L872.0,598.3 L872.9,601.6 L873.8,602.2 L874.7,599.4 L875.6,604.1 L876.5,603.7 L877.4,599.6 L878.3,603.8 L879.2,599.5 L880.1,602.0 L881.0,598.2 L881.9,597.8 L882.8,599.4 L883.7,595.5 L884.6,599.4 L885.5,594.7 L886.4,597.3 L887.3,594.7 L888.2,597.5 L889.1,594.8 L890.0,598.5 L890.9,595.7 L891.8,599.6 L892.7,597.4 L893.6,602.8 L894.5,599.5 L895.4,605.3 L896.3,601.9 L897.2,607.0 L898.1,604.2 L899.0,608.6 L899.9,605.2 L900.8,607.5 L901.7,611.1 L902.6,607.3 L903.5,610.9 L904.4,608.0 L905.3,611.3 L906.2,606.3 L907.1,608.6 L908.0,605.3 L908.9,607.4 L909.8,603.5 L910.7,604.3 L911.6,600.6 L912.5,603.2 L913.4,599.6 L914.3,600.9 L915.2,595.7 L916.1,599.2 L917.0,594.7 L917.9,603.7 L918.8,613.5 L919.7,631.4 L920.6,636.7 L921.5,630.7 L922.4,631.0 L923.3,622.1 L924.2,621.6 L925.1,615.0 L926.0,614.8 L926.9,608.1 L927.8,606.1 L928.7,606.6 L929.6,600.4 L930.5,602.5 L931.4,596.6 L932.3,598.3 L933.2,593.8 L934.1,591.6 L935.0,592.5 L935.9,588.1 L936.8,591.4 L937.7,587.3 L938.6,590.9 L939.5,588.6 L940.4,590.7 L941.3,597.2 L942.2,595.3 L943.1,598.9 L944.0,601.4 L944.9,598.9 L945.8,601.3 L946.7,606.1 L947.6,607.1 L948.5,604.0 L949.4,608.0 L950.3,605.8 L951.2,608.6 L952.1,603.4 L953.0,603.6 L953.9,598.2 L954.8,599.9 L955.7,595.1 L956.6,596.2 L957.5,592.8 L958.4,593.8 L959.3,590.9 L960.2,591.0 L961.1,597.7 L962.0,609.6 L962.9,617.8 L963.8,622.4 L964.7,617.3 L965.6,620.0 L966.5,613.2 L967.4,614.7 L968.3,612.9 L969.2,608.2 L970.1,604.5 L971.0,606.9 L971.9,601.0 L972.8,601.2 L973.7,597.5 L974.6,598.4 L975.5,594.3 L976.4,600.6 L977.3,600.7 L978.2,607.8 L979.1,609.7 L980.0,615.0 L980.9,612.9 L981.8,615.4 L982.7,612.0 L983.6,614.8 L984.5,610.2 L985.4,612.1 L986.3,606.5 L987.2,607.1 L987.7,601.6" fill="none" stroke="#1f77b4" stroke-width="1.85" stroke-linejoin="round" stroke-linecap="butt" />
<line x1="297.15" y1="480.30" x2="297.15" y2="668.30" stroke="#000" stroke-width="2"/>
</g>
<rect x="137.30" y="480.30" width="850.90" height="188.00" fill="none" stroke="#cccccc" stroke-width="1.25"/>
<g stroke="#c6c6c6" stroke-width="1.05" stroke-dasharray="1.0,1.5" fill="none">
<line x1="254.67" y1="894.20" x2="254.67" y2="706.20"/>
<line x1="401.37" y1="894.20" x2="401.37" y2="706.20"/>
<line x1="548.08" y1="894.20" x2="548.08" y2="706.20"/>
<line x1="694.79" y1="894.20" x2="694.79" y2="706.20"/>
<line x1="841.49" y1="894.20" x2="841.49" y2="706.20"/>
<line x1="988.20" y1="894.20" x2="988.20" y2="706.20"/>
<line x1="137.30" y1="737.40" x2="988.20" y2="737.40"/>
<line x1="137.30" y1="894.20" x2="988.20" y2="894.20"/>
</g>
<g clip-path="url(#cp3)">
<path d="M137.6,848.5 L141.4,867.5 L145.2,873.8 L149.0,872.6 L151.6,884.0 L155.4,870.0 L157.9,877.6 L161.7,881.5 L165.5,877.6 L169.3,868.8 L171.9,876.4 L175.7,863.7 L179.5,861.2 L182.0,872.6 L187.1,865.0 L190.9,849.7 L193.4,870.0 L197.2,857.4 L199.8,862.4 L202.3,853.5 L204.8,852.3 L208.6,863.7 L212.4,847.2 L216.3,829.4 L219.3,857.4 L223.9,865.0 L227.7,847.2 L231.5,816.8 L234.0,797.7 L236.5,847.2 L239.1,865.0 L242.9,872.6 L245.4,876.4 L249.2,872.6 L253.0,870.0 L256.8,857.4 L261.4,843.4 L264.4,867.5 L268.3,861.2 L270.8,861.2 L274.6,852.3 L279.7,832.0 L287.3,804.1 L292.4,776.2 L297.2,753.3 L300.0,745.7 L303.8,741.9 L306.3,740.7 L308.3,749.5 L310.6,747.0 L312.6,755.9 L314.7,767.3 L318.2,754.6 L320.8,767.3 L324.1,752.1 L328.6,745.7 L330.4,771.1 L332.9,821.8 L335.0,842.1 L338.0,844.7 L341.8,857.4 L345.6,847.2 L349.4,821.8 L353.2,783.8 L358.3,753.3 L363.4,736.9 L368.5,731.8 L371.0,735.1 L374.8,735.1 L376.6,740.7 L378.1,771.1 L379.9,821.8 L381.6,847.2 L384.4,859.9 L389.0,844.7 L395.4,816.8 L401.7,791.4 L408.1,758.4 L410.6,750.8 L412.6,748.8 L414.4,762.2 L416.9,755.9 L419.5,753.3 L420.7,783.8 L422.0,834.5 L424.5,852.3 L429.6,858.6 L434.7,837.1 L438.5,811.7 L441.0,792.7 L443.6,811.2 L447.4,796.5 L452.4,771.1 L456.3,748.3 L458.3,741.9 L460.8,757.2 L465.1,749.5 L469.7,744.5 L474.0,755.9 L477.8,771.1 L479.6,771.1 L482.9,758.4 L485.4,757.9 L488.0,767.3 L491.8,755.9 L495.6,745.7 L498.1,744.5 L499.4,783.8 L500.6,832.0 L503.2,847.2 L507.0,854.3 L510.8,844.7 L515.9,809.2 L519.7,776.2 L523.5,753.3 L528.5,736.9 L534.9,731.8 L539.5,734.3 L541.2,745.7 L543.0,778.7 L545.0,826.9 L547.6,857.4 L551.4,871.3 L555.2,859.9 L560.3,821.8 L566.6,781.3 L572.9,753.3 L578.0,740.7 L581.8,735.1 L584.4,739.4 L587.7,761.5 L590.7,754.6 L593.2,750.8 L597.0,753.3 L600.3,752.1 L601.6,771.1 L603.4,826.9 L605.4,854.8 L608.5,854.3 L611.5,859.9 L614.8,847.2 L619.9,816.8 L624.9,796.5 L626.5,796.5 L631.6,773.6 L636.6,750.8 L640.4,741.9 L644.2,745.7 L647.3,753.3 L648.6,778.7 L649.8,826.9 L651.9,852.3 L655.7,861.2 L659.5,852.3 L664.5,834.5 L672.2,806.6 L678.5,776.2 L683.6,753.3 L687.4,743.2 L692.4,735.1 L696.3,733.1 L697.5,745.7 L698.8,783.8 L700.6,832.0 L703.1,862.4 L706.4,871.3 L708.9,862.4 L714.0,832.0 L720.4,806.6 L726.7,778.7 L733.0,755.9 L738.1,743.2 L741.9,737.6 L745.7,741.9 L748.3,739.4 L749.5,771.1 L751.3,821.8 L752.8,852.3 L755.1,865.0 L757.9,871.3 L760.2,865.0 L764.7,837.1 L772.4,791.4 L779.0,761.0 L782.8,745.7 L786.6,738.1 L787.8,736.9 L789.9,754.6 L792.9,745.7 L795.9,741.9 L799.8,747.0 L801.8,758.4 L803.1,791.4 L804.6,837.1 L806.9,862.4 L810.2,867.5 L814.5,849.7 L820.8,824.4 L828.4,791.4 L834.8,761.0 L839.8,744.5 L843.6,736.9 L846.7,735.6 L849.2,741.9 L850.7,766.0 L852.5,816.8 L855.1,857.4 L857.6,870.0 L861.4,857.4 L866.5,837.1 L874.1,804.1 L880.4,773.6 L885.5,753.3 L889.3,741.9 L893.1,740.7 L895.6,745.7 L897.4,764.8 L900.7,753.3 L904.0,757.2 L906.6,755.9 L908.3,764.8 L911.6,755.9 L914.7,752.1 L916.7,748.3 L918.0,771.1 L919.7,816.8 L922.3,844.7 L926.1,847.2 L929.9,839.6 L936.2,806.6 L942.6,771.1 L947.6,749.5 L952.7,734.3 L956.5,732.5 L959.8,726.7 L961.6,745.7 L962.9,796.5 L964.1,837.1 L966.7,857.4 L969.2,867.5 L972.5,857.4 L975.0,844.7 L976.8,834.0 L978.1,852.3 L980.1,870.0 L983.2,872.6 L987.7,873.8" fill="none" stroke="#ff0000" stroke-width="1.85" stroke-linejoin="round" stroke-linecap="butt" />
<path d="M137.6,829.4 L141.4,842.1 L145.2,847.2 L149.0,852.3 L152.8,862.4 L155.4,867.5 L157.4,881.5 L159.2,853.5 L163.0,859.9 L166.8,857.4 L169.3,865.0 L171.9,857.4 L173.6,875.1 L176.9,861.2 L179.5,875.1 L182.0,865.0 L184.5,876.4 L187.1,870.0 L190.9,876.4 L193.4,882.7 L196.0,872.6 L198.5,873.8 L203.6,862.4 L206.1,861.2 L211.2,870.0 L216.3,854.8 L220.1,867.5 L222.6,866.2 L227.7,876.4 L231.5,865.0 L234.0,876.4 L235.3,859.9 L237.8,875.1 L241.6,877.6 L246.7,862.4 L251.8,878.9 L256.8,877.6 L261.4,862.4 L265.7,876.4 L273.3,872.6 L279.7,876.4 L284.7,878.9 L289.8,872.6 L293.6,881.5 L297.2,885.3 L301.2,887.8 L305.0,889.1 L310.1,892.9 L315.2,875.1 L319.0,877.6 L320.8,872.6 L324.1,884.0 L327.4,887.8 L330.4,877.6 L332.2,862.4 L335.5,875.1 L338.0,863.7 L341.8,873.8 L345.6,876.4 L349.4,868.8 L353.2,877.6 L358.3,887.8 L363.4,891.6 L369.7,889.1 L374.8,894.1 L377.3,882.7 L379.1,863.7 L382.4,872.6 L386.2,876.4 L391.6,878.9 L395.4,879.7 L400.4,886.5 L403.5,877.6 L406.8,887.8 L410.6,890.3 L412.6,892.9 L414.4,882.7 L418.2,886.5 L420.0,877.6 L422.0,859.9 L424.5,877.6 L429.6,881.5 L434.7,882.2 L438.5,880.2 L440.5,873.8 L442.3,882.7 L444.1,871.3 L446.1,880.2 L449.9,886.5 L453.7,882.7 L457.5,885.3 L460.1,875.6 L462.6,884.0 L467.7,886.5 L471.5,888.3 L477.1,872.6 L480.4,881.5 L484.2,886.5 L488.7,876.4 L491.8,885.3 L494.8,892.4 L498.9,885.3 L500.4,858.6 L502.4,877.6 L504.4,865.0 L507.0,875.6 L510.8,872.1 L515.9,877.6 L519.7,882.7 L522.2,880.2 L527.3,891.6 L532.4,887.8 L534.9,892.4 L537.4,884.0 L541.2,877.6 L543.8,856.1 L545.5,872.6 L546.8,867.5 L548.8,873.8 L555.2,876.4 L560.3,866.2 L564.1,880.2 L570.4,892.4 L575.5,884.8 L579.3,889.1 L585.6,887.8 L586.9,881.5 L589.4,887.8 L595.8,892.4 L600.8,890.3 L602.9,872.6 L604.7,856.1 L607.2,876.4 L609.7,865.0 L612.3,875.1 L617.3,882.7 L622.4,885.8 L622.7,884.0 L627.8,877.6 L632.8,884.0 L639.2,889.1 L643.0,882.7 L646.8,878.9 L649.8,851.0 L651.9,862.4 L653.6,876.4 L655.7,871.3 L659.5,875.1 L664.5,880.2 L669.6,882.2 L674.7,880.2 L679.8,884.0 L686.1,891.6 L691.2,892.9 L696.3,892.4 L698.3,877.6 L700.6,854.8 L702.6,870.0 L706.4,873.8 L711.5,884.0 L716.5,882.7 L721.6,875.1 L726.7,881.5 L731.8,886.5 L736.8,891.6 L741.9,892.9 L748.3,890.3 L750.0,872.6 L751.6,853.5 L753.6,872.6 L757.1,881.5 L762.2,882.7 L768.5,884.8 L775.1,878.9 L779.0,889.1 L782.8,882.7 L787.8,881.5 L792.9,885.3 L798.0,891.6 L801.8,884.0 L803.6,867.5 L805.1,857.4 L807.6,877.6 L811.9,882.7 L817.0,872.6 L822.1,867.5 L827.2,880.2 L831.0,886.5 L836.0,883.2 L841.1,886.5 L845.7,889.1 L848.2,893.4 L850.0,872.6 L851.8,862.4 L854.3,881.5 L858.9,882.7 L865.2,877.6 L870.3,876.4 L876.6,884.0 L883.0,889.1 L889.3,890.3 L894.4,889.1 L896.4,877.6 L898.2,870.0 L900.7,887.8 L903.3,884.0 L905.8,890.3 L908.3,886.5 L910.9,891.6 L913.4,887.8 L916.7,890.3 L918.5,872.6 L920.3,859.9 L923.5,872.6 L929.9,876.4 L937.5,872.6 L942.6,881.5 L947.6,889.1 L952.7,892.9 L957.8,889.1 L961.6,882.7 L964.1,870.0 L966.7,877.6 L970.5,887.8 L973.5,892.4 L976.1,882.7 L978.1,859.9 L980.6,844.7 L983.7,834.5 L987.7,816.8" fill="none" stroke="#008000" stroke-width="1.85" stroke-linejoin="round" stroke-linecap="butt" />
<path d="M137.6,782.5 L141.4,796.5 L144.0,792.7 L146.5,802.8 L149.0,800.3 L152.8,814.2 L155.4,811.7 L157.4,826.9 L159.9,801.5 L161.7,804.1 L164.8,793.9 L168.1,809.2 L171.1,799.0 L175.2,832.0 L176.9,816.8 L179.5,829.4 L182.0,834.5 L184.5,833.3 L188.3,842.1 L190.9,832.0 L194.7,844.7 L196.7,854.8 L199.8,839.6 L202.3,844.7 L204.8,834.5 L208.6,844.7 L211.2,849.7 L216.3,828.2 L220.1,847.2 L222.6,845.9 L226.4,859.9 L231.5,840.9 L234.5,839.6 L236.5,833.3 L239.1,849.7 L242.9,857.4 L248.0,845.9 L251.8,857.4 L255.6,863.7 L259.4,865.0 L263.2,847.2 L265.7,861.2 L272.1,862.4 L279.7,865.5 L286.0,864.5 L289.8,858.6 L293.6,865.5 L297.2,865.0 L300.5,875.1 L305.0,878.9 L308.8,876.4 L312.1,867.5 L315.2,859.9 L318.2,865.5 L320.8,859.9 L324.1,872.6 L326.6,875.6 L329.1,872.6 L332.2,845.9 L335.0,848.5 L338.5,837.6 L341.1,857.4 L344.4,863.7 L347.7,849.7 L350.2,846.4 L353.2,854.8 L358.3,867.5 L363.4,872.6 L368.5,876.4 L372.3,877.6 L374.8,881.5 L376.6,872.6 L378.6,838.3 L381.6,852.3 L384.9,865.0 L390.3,867.5 L395.4,863.7 L400.4,870.0 L404.8,859.9 L408.1,870.0 L411.9,875.1 L414.4,866.2 L418.2,873.8 L420.2,857.4 L422.0,834.5 L424.0,852.3 L427.1,858.6 L430.9,867.5 L434.7,870.0 L438.5,857.4 L441.0,840.9 L444.1,854.8 L448.6,865.0 L455.0,868.0 L457.5,867.5 L460.1,858.6 L463.9,870.0 L470.2,876.4 L475.3,863.7 L479.8,859.9 L484.2,866.2 L487.5,861.2 L491.3,872.6 L495.6,876.4 L498.6,867.5 L500.4,830.7 L502.4,843.4 L504.4,832.0 L507.5,849.7 L512.1,859.9 L515.9,862.4 L519.7,854.8 L523.5,865.0 L528.5,876.4 L534.9,882.2 L539.5,877.6 L542.5,852.3 L544.3,832.0 L546.3,842.1 L548.8,853.5 L555.2,859.9 L561.5,848.5 L566.6,867.5 L571.7,878.9 L576.7,876.4 L581.8,877.6 L585.1,872.6 L587.7,862.4 L591.2,875.1 L595.8,877.1 L600.3,878.2 L602.4,857.4 L604.7,823.1 L607.2,844.7 L609.7,843.4 L613.0,857.4 L617.3,868.8 L620.1,871.3 L621.1,871.3 L625.2,868.8 L630.3,863.7 L635.4,868.8 L640.4,871.3 L645.5,875.1 L648.1,852.3 L649.8,832.0 L652.4,828.2 L655.2,849.7 L658.2,861.2 L664.5,868.8 L669.6,875.1 L674.7,863.7 L679.8,870.0 L684.8,876.4 L691.2,880.2 L696.3,884.8 L698.8,852.3 L700.8,832.0 L703.4,842.1 L707.7,862.4 L712.7,870.0 L717.8,873.8 L721.6,867.5 L726.7,872.6 L733.0,877.6 L739.4,882.2 L744.4,880.2 L749.0,875.1 L750.5,847.2 L752.1,830.7 L754.1,849.7 L757.1,857.4 L762.2,862.4 L767.3,872.6 L770.1,872.6 L775.1,859.9 L780.2,848.5 L785.3,862.4 L790.4,861.2 L795.4,872.6 L800.5,876.4 L803.1,847.2 L804.6,832.0 L806.9,857.4 L811.9,867.5 L818.3,857.4 L823.9,848.5 L828.4,862.4 L834.8,872.6 L841.1,875.1 L847.4,877.6 L850.0,859.9 L851.8,832.0 L854.3,862.4 L858.9,870.0 L866.5,862.4 L874.1,861.2 L880.4,867.5 L886.8,873.8 L893.1,870.0 L896.4,859.9 L898.2,847.2 L900.7,867.5 L905.8,870.0 L912.1,862.4 L916.7,857.4 L918.5,837.1 L920.3,820.6 L922.8,839.6 L926.1,847.2 L932.4,853.5 L940.0,857.4 L947.6,870.0 L955.3,876.4 L959.8,857.4 L962.1,837.1 L964.6,852.3 L967.9,867.5 L971.7,862.4 L974.3,847.2 L976.1,838.3 L979.4,837.1 L983.2,824.4 L987.7,807.9" fill="none" stroke="#ffa500" stroke-width="1.85" stroke-linejoin="round" stroke-linecap="butt" />
<line x1="297.15" y1="706.20" x2="297.15" y2="894.20" stroke="#000" stroke-width="2"/>
</g>
<rect x="137.30" y="706.20" width="850.90" height="188.00" fill="none" stroke="#cccccc" stroke-width="1.25"/>
<g stroke="#c6c6c6" stroke-width="1.05" stroke-dasharray="1.0,1.5" fill="none">
<line x1="254.67" y1="1120.10" x2="254.67" y2="932.10"/>
<line x1="401.37" y1="1120.10" x2="401.37" y2="932.10"/>
<line x1="548.08" y1="1120.10" x2="548.08" y2="932.10"/>
<line x1="694.79" y1="1120.10" x2="694.79" y2="932.10"/>
<line x1="841.49" y1="1120.10" x2="841.49" y2="932.10"/>
<line x1="988.20" y1="1120.10" x2="988.20" y2="932.10"/>
<line x1="137.30" y1="940.50" x2="988.20" y2="940.50"/>
<line x1="137.30" y1="1112.00" x2="988.20" y2="1112.00"/>
</g>
<g clip-path="url(#cp4)">
<path d="M137.6,1029.1 L140.1,1021.5 L142.2,1021.0 L145.2,1006.3 L147.8,998.6 L151.6,978.3 L154.1,966.9 L156.1,982.2 L157.4,965.7 L159.2,964.4 L161.7,950.4 L163.7,945.4 L165.0,953.0 L165.8,1021.5 L166.8,1102.6 L168.1,1098.8 L169.8,1109.0 L171.9,1107.7 L174.4,1101.4 L175.7,1102.6 L176.4,940.3 L177.4,1021.5 L178.2,1110.3 L179.7,1111.5 L180.7,1021.5 L181.5,942.8 L182.8,942.3 L183.5,1021.5 L184.3,1107.2 L187.1,1092.5 L192.2,1077.3 L197.2,1057.0 L203.6,1039.2 L211.2,1030.4 L217.5,1024.0 L222.6,1018.9 L227.7,1006.3 L232.7,994.8 L237.8,994.8 L241.6,988.5 L245.4,965.7 L249.2,947.9 L252.0,941.6 L252.8,1021.5 L253.5,1110.3 L256.8,1102.6 L260.6,1096.3 L263.2,1096.3 L268.3,1087.4 L274.6,1072.2 L282.2,1057.0 L289.8,1041.8 L297.2,1031.6 L305.0,1020.2 L312.6,1007.5 L319.0,993.6 L324.1,979.6 L329.1,966.9 L332.9,963.1 L336.7,953.0 L340.0,944.6 L340.6,1021.5 L341.3,1110.8 L345.6,1097.6 L350.7,1087.4 L357.0,1081.1 L363.4,1076.0 L370.0,1069.7 L374.6,1063.3 L377.1,1058.3 L379.6,1060.8 L382.2,1041.8 L384.7,1018.9 L387.8,1006.3 L391.6,998.6 L396.6,993.6 L403.0,989.0 L409.3,986.0 L415.7,982.2 L420.2,977.1 L422.3,979.6 L424.5,973.3 L426.3,963.1 L427.8,949.9 L428.3,1021.5 L429.4,1107.7 L432.2,1095.0 L436.0,1086.2 L441.0,1080.3 L446.1,1077.3 L453.7,1070.9 L460.1,1065.9 L465.1,1059.5 L471.5,1048.1 L476.5,1036.7 L481.6,1021.5 L486.7,1006.3 L491.8,994.8 L496.8,985.4 L500.6,984.7 L504.4,977.1 L508.3,963.1 L512.1,950.4 L515.9,942.8 L516.4,1021.5 L517.4,1111.5 L522.2,1105.2 L528.5,1097.6 L534.9,1090.0 L541.2,1082.4 L546.3,1077.3 L548.1,1069.7 L550.1,1046.8 L552.6,1029.1 L556.5,1020.2 L561.5,1015.1 L566.6,1011.3 L572.9,1008.3 L580.6,1005.0 L586.9,1001.2 L592.0,993.6 L597.0,980.9 L602.1,964.4 L605.4,961.9 L607.2,953.0 L608.5,946.1 L609.2,1021.5 L610.0,1111.5 L612.5,1101.4 L616.3,1092.5 L621.4,1084.9 L627.8,1078.5 L635.4,1072.2 L643.0,1065.9 L648.1,1061.6 L650.1,1064.6 L651.9,1057.0 L654.4,1039.2 L656.9,1021.5 L659.5,1008.8 L663.3,999.9 L668.3,993.6 L674.7,988.5 L682.3,984.7 L688.6,980.9 L693.7,975.8 L698.3,969.5 L700.8,972.0 L702.6,965.7 L703.9,955.5 L704.9,950.4 L705.4,1021.5 L706.4,1105.2 L708.9,1084.9 L712.7,1077.3 L719.1,1072.2 L726.7,1067.1 L734.3,1063.3 L740.6,1058.3 L745.7,1053.2 L749.0,1044.3 L751.6,1045.6 L754.1,1034.2 L756.6,1013.9 L759.2,996.1 L762.2,986.0 L767.3,979.6 L774.9,974.5 L782.5,970.7 L788.8,968.2 L793.9,963.1 L797.7,958.1 L801.5,950.4 L804.1,945.4 L805.8,941.6 L806.6,1021.5 L807.9,1106.5 L810.4,1077.3 L814.2,1064.6 L820.6,1057.0 L828.2,1051.9 L835.8,1046.8 L846.2,1046.8 L852.5,1039.2 L854.8,1037.2 L856.3,1016.4 L859.4,983.4 L862.7,972.0 L866.5,966.9 L874.1,961.9 L884.2,958.1 L891.8,954.2 L898.2,947.9 L902.0,942.3 L902.5,1021.5 L903.3,1110.3 L905.8,1102.6 L909.6,1087.4 L914.7,1072.2 L919.7,1064.6 L927.4,1041.8 L937.5,1024.0 L947.6,1012.6 L955.3,1005.0 L959.8,998.6 L961.9,1001.2 L964.1,996.1 L966.7,980.9 L969.2,960.6 L971.7,942.3 L972.5,1021.5 L973.5,1110.3 L976.8,1107.7 L979.4,1109.0 L983.2,1101.4 L987.7,1096.3" fill="none" stroke="#ff0000" stroke-width="1.85" stroke-linejoin="round" stroke-linecap="butt" />
<path d="M137.6,1007.5 L141.4,1005.0 L144.0,996.1 L147.3,991.0 L150.3,975.8 L152.8,958.1 L153.8,952.5 L154.4,1021.5 L155.1,1109.0 L157.4,1092.5 L159.9,1072.2 L162.5,1068.4 L165.5,1049.4 L168.1,1058.3 L170.1,1048.1 L172.4,1042.3 L175.2,1058.3 L178.2,1046.8 L182.8,1035.4 L185.3,1044.3 L187.8,1051.9 L190.4,1038.7 L192.2,1046.8 L195.4,1043.0 L198.0,1026.5 L201.0,998.6 L205.6,979.6 L209.9,977.8 L213.7,979.6 L217.5,986.5 L222.6,988.5 L225.6,986.5 L227.7,1001.2 L230.2,1008.8 L232.7,1011.3 L235.3,1024.0 L240.4,1034.2 L245.4,1043.0 L249.2,1043.8 L253.0,1048.1 L256.8,1055.7 L261.9,1065.9 L267.0,1074.7 L270.8,1087.4 L274.1,1095.0 L279.7,1100.1 L284.7,1102.6 L285.8,1109.0 L286.3,1021.5 L287.0,944.9 L289.8,947.9 L292.4,953.0 L294.9,964.4 L297.4,979.6 L301.2,988.5 L303.8,994.8 L305.5,1006.3 L306.3,991.0 L307.1,1046.8 L308.8,1095.0 L310.6,1110.3 L311.1,1021.5 L311.6,947.4 L313.9,970.7 L317.7,988.5 L320.8,1006.3 L322.8,1007.5 L326.6,1024.0 L329.1,1041.8 L330.4,1038.0 L332.4,1043.8 L335.5,1036.7 L339.3,1026.5 L344.4,1015.1 L348.2,1001.2 L351.2,999.9 L353.2,992.3 L357.0,989.8 L360.8,965.7 L363.4,953.0 L365.2,944.1 L367.2,956.8 L369.2,946.6 L371.0,958.1 L373.0,970.7 L374.3,996.1 L375.1,1086.2 L376.1,1021.5 L378.1,1005.0 L381.1,1019.4 L383.7,1013.9 L386.2,1015.1 L388.3,1012.6 L390.3,1006.3 L394.9,1000.7 L399.2,1003.7 L401.7,1018.9 L403.5,1020.2 L405.5,1003.7 L408.6,993.6 L411.1,1008.8 L412.1,1046.8 L413.1,1097.6 L415.2,1100.6 L417.4,1097.6 L419.0,1088.7 L420.7,1093.8 L423.3,1084.9 L425.8,1080.3 L428.9,1081.1 L430.9,1076.0 L433.9,1067.1 L436.0,1062.1 L439.0,1049.4 L441.0,1072.2 L442.3,1067.1 L444.3,1046.8 L447.4,1041.8 L450.7,1024.0 L454.2,1013.9 L457.5,1011.3 L458.8,996.1 L460.1,985.4 L461.8,991.0 L464.4,988.0 L467.7,992.3 L470.2,989.8 L472.7,994.8 L476.5,992.3 L480.4,991.0 L483.4,996.1 L485.4,1008.8 L488.0,1017.7 L490.5,1024.0 L492.3,1020.2 L494.3,1034.2 L496.3,1054.4 L498.1,1063.3 L499.9,1060.8 L501.9,1067.1 L504.4,1073.5 L507.0,1077.3 L509.0,1080.3 L511.6,1072.2 L515.9,1057.0 L519.7,1039.2 L522.2,1026.5 L524.0,1029.1 L526.0,1021.5 L528.5,1007.5 L530.3,998.6 L532.4,1016.4 L534.9,1035.4 L535.9,996.1 L536.7,982.2 L538.7,998.6 L541.2,994.8 L543.3,994.8 L545.5,1010.1 L548.1,1006.3 L551.4,1002.4 L553.9,1008.8 L556.5,1008.3 L559.0,1015.1 L564.1,1016.9 L567.9,1011.3 L569.9,983.4 L571.2,940.3 L572.2,1021.5 L572.9,1111.5 L573.7,1021.5 L574.5,944.1 L576.7,946.6 L578.5,943.3 L579.3,1021.5 L580.0,1110.8 L582.6,1102.6 L584.4,1072.2 L586.9,1048.1 L588.2,1044.3 L590.7,1059.5 L593.7,1073.5 L597.0,1067.1 L600.8,1050.6 L603.4,1048.1 L605.9,1043.0 L609.7,1039.2 L610.0,1039.2 L613.0,1032.9 L616.3,1038.0 L618.9,1037.2 L622.7,1039.7 L626.5,1035.4 L630.3,1026.5 L634.1,1013.9 L636.6,1007.5 L639.2,991.0 L640.9,978.9 L643.5,978.3 L645.5,988.5 L648.1,995.6 L650.6,986.5 L653.1,991.0 L656.9,987.2 L660.7,983.9 L663.3,986.0 L665.3,996.1 L667.1,1016.4 L669.6,1041.8 L673.4,1067.1 L677.2,1078.5 L681.0,1084.9 L684.3,1092.5 L686.1,1077.3 L687.9,1058.3 L689.9,1082.4 L691.7,1109.8 L693.7,1097.6 L695.7,1100.6 L697.0,1072.2 L698.0,1031.6 L700.1,1026.5 L701.8,1031.6 L703.9,1036.2 L706.4,1034.2 L710.2,1018.9 L714.0,1008.8 L717.8,1005.7 L721.6,994.8 L725.4,991.0 L729.2,991.0 L731.8,996.1 L734.3,1008.8 L736.1,1021.5 L738.1,1051.9 L739.9,1084.9 L741.4,1107.7 L742.4,1046.8 L743.4,960.6 L744.4,1003.7 L745.7,1016.4 L747.0,1046.8 L747.7,1079.8 L748.5,1021.5 L749.5,1003.7 L751.6,1002.4 L754.1,1010.1 L757.1,1007.5 L760.9,1015.9 L764.7,1017.7 L768.5,1026.5 L772.4,1018.9 L776.2,1006.3 L778.7,983.4 L780.5,942.8 L781.2,1021.5 L782.5,1107.7 L783.3,1021.5 L784.0,941.6 L785.0,940.3 L785.8,1021.5 L786.8,1111.5 L787.6,1021.5 L788.3,947.9 L789.4,1046.8 L790.1,1111.5 L790.9,1021.5 L791.6,946.6 L793.2,951.7 L795.2,950.9 L797.2,970.7 L799.0,1008.8 L800.8,1046.8 L802.3,1049.4 L803.3,1041.8 L804.8,1046.8 L806.6,1057.0 L810.4,1058.3 L814.5,1069.7 L818.3,1078.5 L822.1,1079.8 L824.6,1093.8 L827.2,1095.0 L829.4,1103.9 L830.2,1021.5 L831.0,949.9 L833.0,965.7 L836.8,987.2 L839.3,988.5 L841.9,986.5 L844.4,991.0 L847.4,996.1 L848.2,1034.2 L849.2,1067.1 L851.3,1051.9 L853.8,1036.7 L856.8,1038.0 L860.1,1017.7 L863.9,1007.5 L867.7,1003.7 L871.5,1008.3 L876.6,1016.4 L880.4,1015.9 L883.0,1026.5 L884.2,1046.8 L889.3,1084.9 L893.1,1102.6 L894.4,1110.3 L896.9,1102.6 L900.7,1105.2 L903.3,1092.5 L904.5,1021.5 L905.3,942.8 L906.0,970.7 L907.1,1021.5 L908.3,1006.3 L910.1,1021.5 L911.1,1003.7 L912.1,1110.3 L912.9,1021.5 L913.7,973.3 L915.2,996.1 L916.7,1003.7 L918.5,968.2 L920.3,955.5 L922.3,946.6 L926.1,958.1 L929.9,964.4 L933.7,986.0 L937.5,998.6 L941.3,993.6 L944.6,996.1 L947.6,989.8 L948.9,1021.5 L950.2,1097.6 L951.5,1098.8 L952.2,1021.5 L952.7,941.6 L953.5,1021.5 L954.8,1084.9 L957.8,1107.7 L959.8,1111.5 L961.6,1106.5 L963.4,1110.3 L966.7,1102.6 L970.5,1095.0 L973.0,1082.4 L975.0,1046.8 L976.8,1032.9 L979.4,1031.1 L981.9,1036.7 L984.4,1038.7 L987.7,1039.7" fill="none" stroke="#008000" stroke-width="1.85" stroke-linejoin="round" stroke-linecap="butt" />
<line x1="297.15" y1="932.10" x2="297.15" y2="1120.10" stroke="#000" stroke-width="2"/>
</g>
<rect x="137.30" y="932.10" width="850.90" height="188.00" fill="none" stroke="#cccccc" stroke-width="1.25"/>
<rect x="760.90" y="761.50" width="214.10" height="120.00" rx="5.2" ry="5.2" fill="#fff" fill-opacity="0.8" stroke="#cccccc" stroke-opacity="0.8" stroke-width="1.25"/>
<line x1="770.30" y1="782.00" x2="821.80" y2="782.00" stroke="#ff0000" stroke-width="1.85"/>
<text x="841.40" y="791.05" font-size="25.5" text-anchor="start" font-family='"DejaVu Sans Mono", "Liberation Mono", monospace' fill="#262626" xml:space="preserve">n = 7</text>
<line x1="770.30" y1="819.80" x2="821.80" y2="819.80" stroke="#008000" stroke-width="1.85"/>
<text x="841.40" y="828.85" font-size="25.5" text-anchor="start" font-family='"DejaVu Sans Mono", "Liberation Mono", monospace' fill="#262626" xml:space="preserve">n = 8</text>
<line x1="770.30" y1="857.10" x2="821.80" y2="857.10" stroke="#ffa500" stroke-width="1.85"/>
<text x="841.40" y="866.15" font-size="25.5" text-anchor="start" font-family='"DejaVu Sans Mono", "Liberation Mono", monospace' fill="#262626" xml:space="preserve">n = 9-16</text>
<rect x="791.40" y="1024.80" width="183.80" height="83.40" rx="5.2" ry="5.2" fill="#fff" fill-opacity="0.8" stroke="#cccccc" stroke-opacity="0.8" stroke-width="1.25"/>
<line x1="800.80" y1="1045.60" x2="853.00" y2="1045.60" stroke="#ff0000" stroke-width="1.85"/>
<text x="872.30" y="1054.65" font-size="25.5" text-anchor="start" font-family='"DejaVu Sans Mono", "Liberation Mono", monospace' fill="#262626" xml:space="preserve">n = -7</text>
<line x1="800.80" y1="1083.40" x2="853.00" y2="1083.40" stroke="#008000" stroke-width="1.85"/>
<text x="872.30" y="1092.45" font-size="25.5" text-anchor="start" font-family='"DejaVu Sans Mono", "Liberation Mono", monospace' fill="#262626" xml:space="preserve">n = -8</text>
<text x="916.20" y="66.10" font-size="32.4" text-anchor="middle" font-family='"DejaVu Sans Mono", "Liberation Mono", monospace' fill="#262626" >(a)</text>
<text x="916.20" y="292.00" font-size="32.4" text-anchor="middle" font-family='"DejaVu Sans Mono", "Liberation Mono", monospace' fill="#262626" >(b)</text>
<text x="916.20" y="517.90" font-size="32.4" text-anchor="middle" font-family='"DejaVu Sans Mono", "Liberation Mono", monospace' fill="#262626" >(c)</text>
<text x="916.20" y="743.80" font-size="32.4" text-anchor="middle" font-family='"DejaVu Sans Mono", "Liberation Mono", monospace' fill="#262626" >(d)</text>
<text x="916.20" y="969.70" font-size="32.4" text-anchor="middle" font-family='"DejaVu Sans Mono", "Liberation Mono", monospace' fill="#262626" >(e)</text>
<text x="562.75" y="21.40" font-size="27.8" text-anchor="middle" font-family='"DejaVu Sans Mono", "Liberation Mono", monospace' fill="#262626" >Shot 30810 @ 64 ms</text>
<text x="129.80" y="41.70" font-size="32.4" text-anchor="end" font-family='"DejaVu Sans Mono", "Liberation Mono", monospace' fill="#262626" >2</text>
<text x="129.80" y="229.70" font-size="32.4" text-anchor="end" font-family='"DejaVu Sans Mono", "Liberation Mono", monospace' fill="#262626" >0</text>
<text x="129.80" y="337.70" font-size="32.4" text-anchor="end" font-family='"DejaVu Sans Mono", "Liberation Mono", monospace' fill="#262626" >5</text>
<text x="129.80" y="455.60" font-size="32.4" text-anchor="end" font-family='"DejaVu Sans Mono", "Liberation Mono", monospace' fill="#262626" >0</text>
<text x="129.80" y="493.50" font-size="32.4" text-anchor="end" font-family='"DejaVu Sans Mono", "Liberation Mono", monospace' fill="#262626" >0.1</text>
<text x="129.80" y="587.40" font-size="32.4" text-anchor="end" font-family='"DejaVu Sans Mono", "Liberation Mono", monospace' fill="#262626" >0.0</text>
<text x="129.80" y="681.50" font-size="32.4" text-anchor="end" font-family='"DejaVu Sans Mono", "Liberation Mono", monospace' fill="#262626" >−0.1</text>
<text x="129.80" y="750.60" font-size="32.4" text-anchor="end" font-family='"DejaVu Sans Mono", "Liberation Mono", monospace' fill="#262626" >0.05</text>
<text x="129.80" y="907.40" font-size="32.4" text-anchor="end" font-family='"DejaVu Sans Mono", "Liberation Mono", monospace' fill="#262626" >0.00</text>
<text x="129.80" y="953.70" font-size="32.4" text-anchor="end" font-family='"DejaVu Sans Mono", "Liberation Mono", monospace' fill="#262626" >2</text>
<text x="129.80" y="1125.20" font-size="32.4" text-anchor="end" font-family='"DejaVu Sans Mono", "Liberation Mono", monospace' fill="#262626" >0</text>
<text x="137.40" y="250.30" font-size="25.5" text-anchor="start" font-family='"DejaVu Sans Mono", "Liberation Mono", monospace' fill="#262626" >1e19</text>
<text x="254.67" y="1154.20" font-size="32.4" text-anchor="middle" font-family='"DejaVu Sans Mono", "Liberation Mono", monospace' fill="#262626" >0.05</text>
<text x="401.37" y="1154.20" font-size="32.4" text-anchor="middle" font-family='"DejaVu Sans Mono", "Liberation Mono", monospace' fill="#262626" >0.10</text>
<text x="548.08" y="1154.20" font-size="32.4" text-anchor="middle" font-family='"DejaVu Sans Mono", "Liberation Mono", monospace' fill="#262626" >0.15</text>
<text x="694.79" y="1154.20" font-size="32.4" text-anchor="middle" font-family='"DejaVu Sans Mono", "Liberation Mono", monospace' fill="#262626" >0.20</text>
<text x="841.49" y="1154.20" font-size="32.4" text-anchor="middle" font-family='"DejaVu Sans Mono", "Liberation Mono", monospace' fill="#262626" >0.25</text>
<text x="988.20" y="1154.20" font-size="32.4" text-anchor="middle" font-family='"DejaVu Sans Mono", "Liberation Mono", monospace' fill="#262626" >0.30</text>
<text x="562.75" y="1190.20" font-size="32.8" text-anchor="middle" font-family='"DejaVu Sans Mono", "Liberation Mono", monospace' fill="#262626" >Time [s]</text>
<g transform="translate(94.00,189.40) rotate(-90)" fill="#262626">
<text x="0.00" y="0.00" font-size="32.8" font-family='"DejaVu Sans Mono", "Liberation Mono", monospace' xml:space="preserve">I</text>
<text x="19.75" y="5.00" font-size="23.1" font-family='"DejaVu Sans", "Liberation Sans", sans-serif' font-style="italic" xml:space="preserve">p</text>
<text x="34.41" y="0.00" font-size="32.8" font-family='"DejaVu Sans Mono", "Liberation Mono", monospace' xml:space="preserve"> [MA]</text>
</g>
<g transform="translate(97.60,429.40) rotate(-90)" fill="#262626">
<text x="0.00" y="0.00" font-size="32.8" font-family='"DejaVu Sans Mono", "Liberation Mono", monospace' xml:space="preserve">n</text>
<text x="19.75" y="5.50" font-size="23.1" font-family='"DejaVu Sans", "Liberation Sans", sans-serif' xml:space="preserve">e</text>
<text x="33.96" y="0.00" font-size="32.8" font-family='"DejaVu Sans Mono", "Liberation Mono", monospace' xml:space="preserve"> [</text>
<text x="73.45" y="0.00" font-size="32.8" font-family='"DejaVu Sans", "Liberation Sans", sans-serif' font-style="italic" xml:space="preserve">m</text>
<text x="105.40" y="-13.80" font-size="23.1" font-family='"DejaVu Sans", "Liberation Sans", sans-serif' xml:space="preserve">−3</text>
<text x="141.46" y="0.00" font-size="32.8" font-family='"DejaVu Sans Mono", "Liberation Mono", monospace' xml:space="preserve">]</text>
</g>
<g transform="translate(40.00,585.00) rotate(-90)" fill="#262626">
<text x="0.00" y="0.00" font-size="32.8" font-family='"DejaVu Sans Mono", "Liberation Mono", monospace' xml:space="preserve">F</text>
</g>
<g transform="translate(32.20,885.50) rotate(-90)" fill="#262626">
<text x="0.00" y="0.00" font-size="32.8" font-family='"DejaVu Sans Mono", "Liberation Mono", monospace' xml:space="preserve">b</text>
<text x="19.75" y="-16.20" font-size="23.1" font-family='"DejaVu Sans", "Liberation Sans", sans-serif' xml:space="preserve">1,</text>
<text x="53.80" y="-16.00" font-size="23.1" font-family='"DejaVu Sans", "Liberation Sans", sans-serif' font-style="italic" xml:space="preserve">n</text>
<text x="20.65" y="8.50" font-size="23.1" font-family='"DejaVu Sans", "Liberation Sans", sans-serif' font-style="italic" xml:space="preserve">ϕ</text>
<text x="69.05" y="0.00" font-size="32.8" font-family='"DejaVu Sans Mono", "Liberation Mono", monospace' xml:space="preserve">/B</text>
<text x="108.54" y="4.60" font-size="23.1" font-family='"DejaVu Sans", "Liberation Sans", sans-serif' font-style="italic" xml:space="preserve">p</text>
<text x="123.21" y="0.00" font-size="32.8" font-family='"DejaVu Sans", "Liberation Sans", sans-serif' xml:space="preserve">(</text>
<text x="136.00" y="0.00" font-size="32.8" font-family='"DejaVu Sans", "Liberation Sans", sans-serif' font-style="italic" xml:space="preserve">a</text>
<text x="156.10" y="0.00" font-size="32.8" font-family='"DejaVu Sans", "Liberation Sans", sans-serif' xml:space="preserve">)</text>
</g>
<g transform="translate(96.90,1140.60) rotate(-90)" fill="#262626">
<text x="0.00" y="0.00" font-size="32.8" font-family='"DejaVu Sans", "Liberation Sans", sans-serif' font-style="italic" xml:space="preserve">ϕ</text>
<text x="21.64" y="-12.50" font-size="23.1" font-family='"DejaVu Sans", "Liberation Sans", sans-serif' xml:space="preserve">1</text>
<text x="37.63" y="-12.50" font-size="23.1" font-family='"DejaVu Sans", "Liberation Sans", sans-serif' xml:space="preserve">,</text>
<text x="56.50" y="-11.50" font-size="23.1" font-family='"DejaVu Sans", "Liberation Sans", sans-serif' font-style="italic" xml:space="preserve">n</text>
<text x="71.14" y="0.00" font-size="32.8" font-family='"DejaVu Sans Mono", "Liberation Mono", monospace' xml:space="preserve"> [</text>
<text x="110.64" y="0.00" font-size="32.8" font-family='"DejaVu Sans", "Liberation Sans", sans-serif' font-style="italic" xml:space="preserve">π</text>
<text x="137.60" y="0.00" font-size="32.8" font-family='"DejaVu Sans", "Liberation Sans", sans-serif' font-style="italic" xml:space="preserve">⋅</text>
<text x="154.40" y="0.00" font-size="32.8" font-family='"DejaVu Sans", "Liberation Sans", sans-serif' font-style="italic" xml:space="preserve">rad</text>
<text x="208.81" y="0.00" font-size="32.8" font-family='"DejaVu Sans Mono", "Liberation Mono", monospace' xml:space="preserve">]</text>
</g>
<g stroke="#c8c8c8" stroke-width="1.4" stroke-dasharray="1.35,2.0" fill="none">
<line x1="422.00" y1="1892.4" x2="422.00" y2="1267.0"/>
<line x1="596.00" y1="1892.4" x2="596.00" y2="1267.0"/>
<line x1="770.00" y1="1892.4" x2="770.00" y2="1267.0"/>
<line x1="257.5" y1="1892.80" x2="935.3" y2="1892.80"/>
<line x1="257.5" y1="1784.80" x2="935.3" y2="1784.80"/>
<line x1="257.5" y1="1676.80" x2="935.3" y2="1676.80"/>
<line x1="257.5" y1="1568.80" x2="935.3" y2="1568.80"/>
<line x1="257.5" y1="1460.80" x2="935.3" y2="1460.80"/>
<line x1="257.5" y1="1352.80" x2="935.3" y2="1352.80"/>
</g>
<clipPath id="cpf"><rect x="257.5" y="1267.0" width="677.8" height="625.4000000000001"/></clipPath>
<g clip-path="url(#cpf)">
<line x1="288.2" y1="1527.2" x2="288.2" y2="1640.0" stroke="#1f77b4" stroke-width="2.5"/>
<line x1="309.7" y1="1510.0" x2="309.7" y2="1592.4" stroke="#1f77b4" stroke-width="2.5"/>
<line x1="335.5" y1="1529.6" x2="335.5" y2="1574.4" stroke="#1f77b4" stroke-width="2.5"/>
<line x1="366.3" y1="1485.9" x2="366.3" y2="1514.0" stroke="#1f77b4" stroke-width="2.5"/>
<line x1="402.2" y1="1447.6" x2="402.2" y2="1474.9" stroke="#1f77b4" stroke-width="2.5"/>
<line x1="443.9" y1="1445.3" x2="443.9" y2="1469.1" stroke="#1f77b4" stroke-width="2.5"/>
<line x1="491.2" y1="1433.6" x2="491.2" y2="1462.4" stroke="#ff0000" stroke-width="2.5"/>
<line x1="542.7" y1="1470.6" x2="542.7" y2="1500.7" stroke="#1f77b4" stroke-width="2.5"/>
<line x1="596.0" y1="1496.4" x2="596.0" y2="1519.0" stroke="#1f77b4" stroke-width="2.5"/>
<line x1="649.9" y1="1503.8" x2="649.9" y2="1527.2" stroke="#1f77b4" stroke-width="2.5"/>
<line x1="701.4" y1="1499.5" x2="701.4" y2="1539.3" stroke="#1f77b4" stroke-width="2.5"/>
<line x1="748.2" y1="1549.9" x2="748.2" y2="1566.2" stroke="#1f77b4" stroke-width="2.5"/>
<line x1="790.3" y1="1571.7" x2="790.3" y2="1589.3" stroke="#1f77b4" stroke-width="2.5"/>
<line x1="826.3" y1="1598.2" x2="826.3" y2="1618.5" stroke="#1f77b4" stroke-width="2.5"/>
<line x1="882.8" y1="1725.3" x2="882.8" y2="1763.9" stroke="#1f77b4" stroke-width="2.5"/>
<line x1="904.3" y1="1616.1" x2="904.3" y2="1680.7" stroke="#1f77b4" stroke-width="2.5"/>
<line x1="317.1" y1="1573.7" x2="421.7" y2="1432.4" stroke="#008000" stroke-width="4.3" stroke-linecap="round"/>
<line x1="366.3" y1="1892.4" x2="366.3" y2="1267.0" stroke="#ffa500" stroke-width="2.5" stroke-dasharray="8.88,3.84"/>
<line x1="701.35" y1="1892.4" x2="701.35" y2="1267.0" stroke="#ffa500" stroke-width="2.5" stroke-dasharray="8.88,3.84"/>
<path d="M288.2,1583.8 L309.7,1551.0 L335.5,1551.8 L366.3,1501.5 L402.2,1460.9 L443.9,1457.4 L491.2,1448.4 L542.7,1485.5 L596.0,1508.1 L649.9,1515.5 L701.4,1517.5 L748.2,1558.0 L790.3,1580.3 L826.3,1608.0 L882.8,1744.8 L904.3,1648.3" fill="none" stroke="#1f77b4" stroke-width="2.5" stroke-linejoin="round" stroke-linecap="butt" />
<circle cx="288.2" cy="1583.8" r="5.4" fill="#1f77b4"/>
<circle cx="309.7" cy="1551.0" r="5.4" fill="#1f77b4"/>
<circle cx="335.5" cy="1551.8" r="5.4" fill="#1f77b4"/>
<circle cx="366.3" cy="1501.5" r="5.4" fill="#1f77b4"/>
<circle cx="402.2" cy="1460.9" r="5.4" fill="#1f77b4"/>
<circle cx="443.9" cy="1457.4" r="5.4" fill="#1f77b4"/>
<circle cx="491.2" cy="1448.4" r="5.4" fill="#ff0000"/>
<circle cx="542.7" cy="1485.5" r="5.4" fill="#1f77b4"/>
<circle cx="596.0" cy="1508.1" r="5.4" fill="#1f77b4"/>
<circle cx="649.9" cy="1515.5" r="5.4" fill="#1f77b4"/>
<circle cx="701.4" cy="1517.5" r="5.4" fill="#1f77b4"/>
<circle cx="748.2" cy="1558.0" r="5.4" fill="#1f77b4"/>
<circle cx="790.3" cy="1580.3" r="5.4" fill="#1f77b4"/>
<circle cx="826.3" cy="1608.0" r="5.4" fill="#1f77b4"/>
<circle cx="882.8" cy="1744.8" r="5.4" fill="#1f77b4"/>
<circle cx="904.3" cy="1648.3" r="5.4" fill="#1f77b4"/>
</g>
<rect x="257.5" y="1267.0" width="677.8" height="625.4000000000001" fill="none" stroke="#cccccc" stroke-width="1.74"/>
<rect x="274.7" y="1284.0" width="213.1" height="63.3" rx="7" ry="7" fill="#fff" fill-opacity="0.8" stroke="#cccccc" stroke-opacity="0.8" stroke-width="1.75"/>
<line x1="288.4" y1="1313.4" x2="361" y2="1313.4" stroke="#1f77b4" stroke-width="2.5"/>
<line x1="324.5" y1="1295.7" x2="324.5" y2="1331.2" stroke="#1f77b4" stroke-width="2.5"/>
<circle cx="324.5" cy="1313.4" r="5.4" fill="#1f77b4"/>
<text x="388.30" y="1326.00" font-size="35.3" text-anchor="start" font-family='"DejaVu Sans Mono", "Liberation Mono", monospace' fill="#262626" >DSX3</text>
<text x="867.50" y="1329.40" font-size="46.0" text-anchor="middle" font-family='"DejaVu Sans Mono", "Liberation Mono", monospace' fill="#262626" >(f)</text>
<text x="246.30" y="1909.70" font-size="44.9" text-anchor="end" font-family='"DejaVu Sans Mono", "Liberation Mono", monospace' fill="#262626" >0.00</text>
<text x="246.30" y="1801.70" font-size="44.9" text-anchor="end" font-family='"DejaVu Sans Mono", "Liberation Mono", monospace' fill="#262626" >0.25</text>
<text x="246.30" y="1693.70" font-size="44.9" text-anchor="end" font-family='"DejaVu Sans Mono", "Liberation Mono", monospace' fill="#262626" >0.50</text>
<text x="246.30" y="1585.70" font-size="44.9" text-anchor="end" font-family='"DejaVu Sans Mono", "Liberation Mono", monospace' fill="#262626" >0.75</text>
<text x="246.30" y="1477.70" font-size="44.9" text-anchor="end" font-family='"DejaVu Sans Mono", "Liberation Mono", monospace' fill="#262626" >1.00</text>
<text x="246.30" y="1369.70" font-size="44.9" text-anchor="end" font-family='"DejaVu Sans Mono", "Liberation Mono", monospace' fill="#262626" >1.25</text>
<text x="422.00" y="1938.90" font-size="44.9" text-anchor="middle" font-family='"DejaVu Sans Mono", "Liberation Mono", monospace' fill="#262626" >−0.2</text>
<text x="596.00" y="1938.90" font-size="44.9" text-anchor="middle" font-family='"DejaVu Sans Mono", "Liberation Mono", monospace' fill="#262626" >0.0</text>
<text x="770.00" y="1938.90" font-size="44.9" text-anchor="middle" font-family='"DejaVu Sans Mono", "Liberation Mono", monospace' fill="#262626" >0.2</text>
<text x="596.40" y="1989.60" font-size="45.2" text-anchor="middle" font-family='"DejaVu Sans Mono", "Liberation Mono", monospace' fill="#262626" >p [m]</text>
<text transform="translate(122.8,1580.0) rotate(-90)" font-size="45.2" text-anchor="middle" font-family='"DejaVu Sans Mono", "Liberation Mono", monospace' fill="#262626">T [keV]</text>
</svg>
</body></html>
